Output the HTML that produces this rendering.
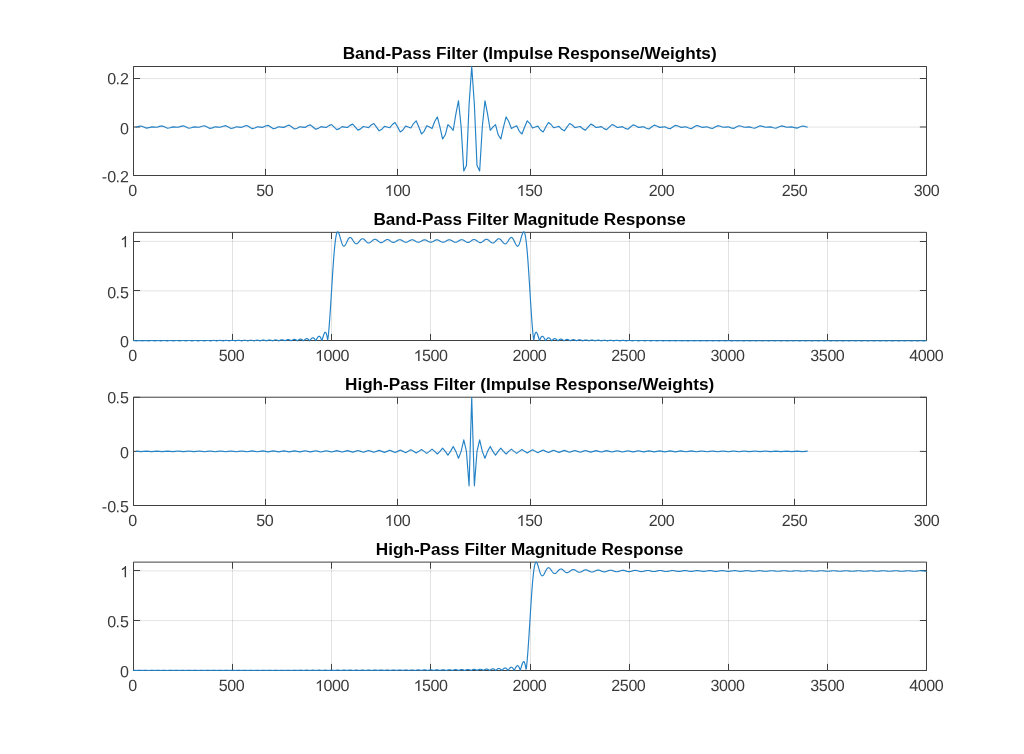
<!DOCTYPE html>
<html><head><meta charset="utf-8"><title>Filters</title>
<style>
html,body{margin:0;padding:0;background:#fff;}
body{width:1024px;height:754px;overflow:hidden;}
svg{display:block;}
text{font-family:"Liberation Sans",sans-serif;}
.t{font-size:15.6px;fill:#3a3a3a;}
.o{fill:#3a3a3a;stroke:none;}
.ti{font-size:17.0px;font-weight:bold;fill:#000;text-anchor:middle;}
.g{stroke:#262626;stroke-opacity:0.13;stroke-width:1;fill:none;}
.a{stroke:#404040;stroke-width:1;fill:none;}
.c{stroke:#2482C6;stroke-width:1.15;stroke-opacity:1;fill:none;stroke-linejoin:round;stroke-linecap:butt;}
</style></head><body>
<svg width="1024" height="754" viewBox="0 0 1024 754">
<rect width="1024" height="754" fill="#fff"/>
<g id="ax1" opacity="0.999">
<path class="g" d="M265.5 66.5V175.5M397.5 66.5V175.5M530.5 66.5V175.5M662.5 66.5V175.5M794.5 66.5V175.5"/>
<path class="g" d="M133.5 78.6H926.5M133.5 127.06H926.5"/>
<path class="a" d="M133.5 66.5H926.5V175.5H133.5Z"/>
<path class="a" d="M133.5 175.5v-6.6M133.5 66.5v6.6M265.5 175.5v-6.6M265.5 66.5v6.6M397.5 175.5v-6.6M397.5 66.5v6.6M530.5 175.5v-6.6M530.5 66.5v6.6M662.5 175.5v-6.6M662.5 66.5v6.6M794.5 175.5v-6.6M794.5 66.5v6.6M926.5 175.5v-6.6M926.5 66.5v6.6M133.5 175.5h6.6M926.5 175.5h-6.6M133.5 127h6.6M926.5 127h-6.6M133.5 78.5h6.6M926.5 78.5h-6.6"/>
<polyline class="c" points="135.77,127.23 138.41,126.44 141.06,126 143.7,127.06 146.35,128.13 148.99,127.69 151.64,126.87 154.28,127.06 156.93,127.25 159.57,126.4 162.22,125.93 164.86,127.06 167.51,128.2 170.15,127.73 172.8,126.86 175.45,127.06 178.09,127.26 180.74,126.35 183.38,125.85 186.03,127.06 188.67,128.29 191.32,127.78 193.96,126.84 196.61,127.06 199.25,127.27 201.9,126.3 204.54,125.75 207.19,127.06 209.83,128.39 212.48,127.84 215.13,126.82 217.77,127.06 220.42,127.29 223.06,126.24 225.71,125.64 228.35,127.06 231,128.5 233.64,127.91 236.29,126.8 238.93,127.06 241.58,127.32 244.22,126.16 246.87,125.51 249.51,127.06 252.16,128.64 254.81,128 257.45,126.78 260.1,127.06 262.74,127.34 265.39,126.07 268.03,125.35 270.68,127.06 273.32,128.81 275.97,128.1 278.61,126.75 281.26,127.06 283.9,127.37 286.55,125.95 289.19,125.15 291.84,127.06 294.49,129.02 297.13,128.22 299.78,126.71 302.42,127.06 305.07,127.41 307.71,125.81 310.36,124.9 313,127.06 315.65,129.29 318.29,128.38 320.94,126.66 323.58,127.06 326.23,127.47 328.87,125.63 331.52,124.57 334.17,127.06 336.81,129.64 339.46,128.6 342.1,126.59 344.75,127.06 347.39,127.54 350.04,125.38 352.68,124.13 355.33,127.06 357.97,130.12 360.62,128.89 363.26,126.5 365.91,127.06 368.55,127.63 371.2,125.03 373.85,123.5 376.49,127.06 379.14,130.82 381.78,129.32 384.43,126.37 387.07,127.06 389.72,127.78 392.36,124.49 395.01,122.52 397.65,127.06 400.3,131.93 402.94,130.02 405.59,126.15 408.23,127.06 410.88,128.04 413.53,123.55 416.17,120.79 418.82,127.06 421.46,133.98 424.11,131.34 426.75,125.73 429.4,127.06 432.04,128.56 434.69,121.55 437.33,116.93 439.98,127.06 442.62,139.02 445.27,134.77 447.91,124.55 450.56,127.06 453.21,130.28 455.85,114.21 458.5,100.73 461.14,127.06 463.79,170.93 466.43,165.61 469.08,104.47 471.72,66.5 474.37,104.47 477.01,165.61 479.66,170.93 482.3,127.06 484.95,100.73 487.59,114.21 490.24,130.28 492.89,127.06 495.53,124.55 498.18,134.77 500.82,139.02 503.47,127.06 506.11,116.93 508.76,121.55 511.4,128.56 514.05,127.06 516.69,125.73 519.34,131.34 521.98,133.98 524.63,127.06 527.27,120.79 529.92,123.55 532.57,128.04 535.21,127.06 537.86,126.15 540.5,130.02 543.15,131.93 545.79,127.06 548.44,122.52 551.08,124.49 553.73,127.78 556.37,127.06 559.02,126.37 561.66,129.32 564.31,130.82 566.95,127.06 569.6,123.5 572.25,125.03 574.89,127.63 577.54,127.06 580.18,126.5 582.83,128.89 585.47,130.12 588.12,127.06 590.76,124.13 593.41,125.38 596.05,127.54 598.7,127.06 601.34,126.59 603.99,128.6 606.63,129.64 609.28,127.06 611.93,124.57 614.57,125.63 617.22,127.47 619.86,127.06 622.51,126.66 625.15,128.38 627.8,129.29 630.44,127.06 633.09,124.9 635.73,125.81 638.38,127.41 641.02,127.06 643.67,126.71 646.31,128.22 648.96,129.02 651.61,127.06 654.25,125.15 656.9,125.95 659.54,127.37 662.19,127.06 664.83,126.75 667.48,128.1 670.12,128.81 672.77,127.06 675.41,125.35 678.06,126.07 680.7,127.34 683.35,127.06 685.99,126.78 688.64,128 691.29,128.64 693.93,127.06 696.58,125.51 699.22,126.16 701.87,127.32 704.51,127.06 707.16,126.8 709.8,127.91 712.45,128.5 715.09,127.06 717.74,125.64 720.38,126.24 723.03,127.29 725.67,127.06 728.32,126.82 730.97,127.84 733.61,128.39 736.26,127.06 738.9,125.75 741.55,126.3 744.19,127.27 746.84,127.06 749.48,126.84 752.13,127.78 754.77,128.29 757.42,127.06 760.06,125.85 762.71,126.35 765.35,127.26 768,127.06 770.65,126.86 773.29,127.73 775.94,128.2 778.58,127.06 781.23,125.93 783.87,126.4 786.52,127.25 789.16,127.06 791.81,126.87 794.45,127.69 797.1,128.13 799.74,127.06 802.39,126 805.03,126.44 807.68,127.23"/>
<g transform="translate(132.65 196.05) rotate(0.03) scale(1.03 1.04)"><text class="t" x="-4.34" y="0">0</text></g>
<g transform="translate(265.07 196.05) rotate(0.03) scale(1.03 1.04)"><text class="t" x="-8.46 -0.21" y="0">50</text></g>
<g transform="translate(397.63 196.05) rotate(0.03) scale(1.03 1.04)"><path class="o" transform="translate(-12.59 0) scale(0.00762 -0.00729)" d="M763 0H583V1147Q518 1085 412.5 1023T223 930V1104Q374 1175 487 1276T647 1472H763Z"/><text class="t" x="-4.34 3.92" y="0">00</text></g>
<g transform="translate(529.6 196.05) rotate(0.03) scale(1.03 1.04)"><path class="o" transform="translate(-12.59 0) scale(0.00762 -0.00729)" d="M763 0H583V1147Q518 1085 412.5 1023T223 930V1104Q374 1175 487 1276T647 1472H763Z"/><text class="t" x="-4.34 3.92" y="0">50</text></g>
<g transform="translate(661.67 196.05) rotate(0.03) scale(1.03 1.04)"><text class="t" x="-12.59 -4.34 3.92" y="0">200</text></g>
<g transform="translate(794.63 196.05) rotate(0.03) scale(1.03 1.04)"><text class="t" x="-12.59 -4.34 3.92" y="0">250</text></g>
<g transform="translate(926.7 196.05) rotate(0.03) scale(1.03 1.04)"><text class="t" x="-12.59 -4.34 3.92" y="0">300</text></g>
<g transform="translate(128.8 182.15) rotate(0.03) scale(1.03 1.04)"><text class="t" x="-26.17 -20.84 -12.87 -8.46" y="0">-0.2</text></g>
<g transform="translate(128.8 134.15) rotate(0.03) scale(1.03 1.04)"><text class="t" x="-8.46" y="0">0</text></g>
<g transform="translate(128.8 84.15) rotate(0.03) scale(1.03 1.04)"><text class="t" x="-20.84 -12.87 -8.46" y="0">0.2</text></g>
<text class="ti" transform="translate(529.6 59.3) rotate(0.01) scale(1.009 1.0)">Band-Pass Filter (Impulse Response/Weights)</text>
</g>
<g id="ax2" opacity="0.999">
<path class="g" d="M232.5 232.35V340.5M331.5 232.35V340.5M430.5 232.35V340.5M530.5 232.35V340.5M629.5 232.35V340.5M728.5 232.35V340.5M827.5 232.35V340.5"/>
<path class="g" d="M133.5 241.35H926.5M133.5 290.9H926.5"/>
<path class="a" d="M133.5 232.35H926.5V340.5H133.5Z"/>
<path class="a" d="M133.5 340.5v-6.6M133.5 232.35v6.6M232.5 340.5v-6.6M232.5 232.35v6.6M331.5 340.5v-6.6M331.5 232.35v6.6M430.5 340.5v-6.6M430.5 232.35v6.6M530.5 340.5v-6.6M530.5 232.35v6.6M629.5 340.5v-6.6M629.5 232.35v6.6M728.5 340.5v-6.6M728.5 232.35v6.6M827.5 340.5v-6.6M827.5 232.35v6.6M926.5 340.5v-6.6M926.5 232.35v6.6M133.5 340.5h6.6M926.5 340.5h-6.6M133.5 290.5h6.6M926.5 290.5h-6.6M133.5 241.5h6.6M926.5 241.5h-6.6"/>
<polyline class="c" points="133.12,340.55 133.52,340.56 133.91,340.58 134.31,340.61 134.71,340.66 135.1,340.71 135.5,340.77 135.9,340.84 136.29,340.89 136.69,340.82 137.09,340.75 137.48,340.69 137.88,340.64 138.28,340.6 138.68,340.57 139.07,340.55 139.47,340.55 139.87,340.56 140.26,340.59 140.66,340.63 141.06,340.68 141.45,340.73 141.85,340.8 142.25,340.87 142.64,340.86 143.04,340.79 143.44,340.73 143.83,340.67 144.23,340.62 144.63,340.58 145.02,340.56 145.42,340.55 145.82,340.55 146.21,340.57 146.61,340.6 147.01,340.64 147.4,340.7 147.8,340.76 148.2,340.83 148.6,340.9 148.99,340.83 149.39,340.76 149.79,340.7 150.18,340.65 150.58,340.6 150.98,340.57 151.37,340.55 151.77,340.54 152.17,340.55 152.56,340.58 152.96,340.61 153.36,340.66 153.75,340.72 154.15,340.78 154.55,340.85 154.94,340.88 155.34,340.81 155.74,340.74 156.13,340.68 156.53,340.63 156.93,340.58 157.32,340.56 157.72,340.54 158.12,340.54 158.52,340.56 158.91,340.58 159.31,340.63 159.71,340.68 160.1,340.74 160.5,340.81 160.9,340.88 161.29,340.85 161.69,340.78 162.09,340.71 162.48,340.65 162.88,340.6 163.28,340.57 163.67,340.54 164.07,340.54 164.47,340.54 164.86,340.56 165.26,340.59 165.66,340.64 166.05,340.7 166.45,340.76 166.85,340.83 167.24,340.89 167.64,340.82 168.04,340.75 168.44,340.68 168.83,340.63 169.23,340.58 169.63,340.55 170.02,340.53 170.42,340.53 170.82,340.54 171.21,340.57 171.61,340.61 172.01,340.66 172.4,340.72 172.8,340.79 173.2,340.86 173.59,340.86 173.99,340.79 174.39,340.72 174.78,340.66 175.18,340.6 175.58,340.56 175.97,340.54 176.37,340.52 176.77,340.52 177.16,340.54 177.56,340.57 177.96,340.62 178.36,340.67 178.75,340.74 179.15,340.81 179.55,340.89 179.94,340.83 180.34,340.76 180.74,340.69 181.13,340.63 181.53,340.58 181.93,340.54 182.32,340.52 182.72,340.51 183.12,340.52 183.51,340.54 183.91,340.58 184.31,340.63 184.7,340.69 185.1,340.76 185.5,340.84 185.89,340.88 186.29,340.8 186.69,340.73 187.08,340.66 187.48,340.6 187.88,340.56 188.28,340.52 188.67,340.5 189.07,340.5 189.47,340.52 189.86,340.55 190.26,340.59 190.66,340.65 191.05,340.71 191.45,340.79 191.85,340.87 192.24,340.85 192.64,340.77 193.04,340.7 193.43,340.63 193.83,340.57 194.23,340.53 194.62,340.5 195.02,340.49 195.42,340.49 195.81,340.51 196.21,340.55 196.61,340.6 197,340.66 197.4,340.74 197.8,340.82 198.2,340.9 198.59,340.82 198.99,340.74 199.39,340.66 199.78,340.6 200.18,340.54 200.58,340.5 200.97,340.48 201.37,340.47 201.77,340.48 202.16,340.51 202.56,340.56 202.96,340.61 203.35,340.68 203.75,340.76 204.15,340.85 204.54,340.87 204.94,340.78 205.34,340.7 205.73,340.62 206.13,340.56 206.53,340.51 206.92,340.48 207.32,340.46 207.72,340.46 208.12,340.48 208.51,340.51 208.91,340.56 209.31,340.63 209.7,340.7 210.1,340.79 210.5,340.88 210.89,340.83 211.29,340.74 211.69,340.66 212.08,340.59 212.48,340.53 212.88,340.48 213.27,340.45 213.67,340.44 214.07,340.44 214.46,340.47 214.86,340.51 215.26,340.57 215.65,340.64 216.05,340.73 216.45,340.82 216.84,340.89 217.24,340.79 217.64,340.7 218.04,340.62 218.43,340.55 218.83,340.49 219.23,340.44 219.62,340.42 220.02,340.42 220.42,340.43 220.81,340.46 221.21,340.52 221.61,340.58 222,340.66 222.4,340.75 222.8,340.85 223.19,340.85 223.59,340.75 223.99,340.66 224.38,340.57 224.78,340.5 225.18,340.45 225.57,340.41 225.97,340.39 226.37,340.39 226.76,340.42 227.16,340.46 227.56,340.52 227.96,340.6 228.35,340.69 228.75,340.79 229.15,340.89 229.54,340.8 229.94,340.7 230.34,340.61 230.73,340.52 231.13,340.45 231.53,340.4 231.92,340.37 232.32,340.36 232.72,340.37 233.11,340.4 233.51,340.46 233.91,340.53 234.3,340.61 234.7,340.71 235.1,340.82 235.49,340.87 235.89,340.76 236.29,340.65 236.68,340.55 237.08,340.47 237.48,340.4 237.88,340.35 238.27,340.33 238.67,340.33 239.07,340.35 239.46,340.39 239.86,340.45 240.26,340.54 240.65,340.63 241.05,340.74 241.45,340.86 241.84,340.82 242.24,340.7 242.64,340.59 243.03,340.49 243.43,340.41 243.83,340.35 244.22,340.3 244.62,340.28 245.02,340.29 245.41,340.32 245.81,340.38 246.21,340.45 246.6,340.55 247,340.66 247.4,340.78 247.8,340.89 248.19,340.76 248.59,340.64 248.99,340.53 249.38,340.42 249.78,340.34 250.18,340.28 250.57,340.25 250.97,340.24 251.37,340.25 251.76,340.3 252.16,340.36 252.56,340.45 252.95,340.56 253.35,340.69 253.75,340.82 254.14,340.84 254.54,340.7 254.94,340.57 255.33,340.45 255.73,340.35 256.13,340.27 256.52,340.21 256.92,340.18 257.32,340.18 257.72,340.21 258.11,340.27 258.51,340.35 258.91,340.46 259.3,340.59 259.7,340.73 260.1,340.87 260.49,340.77 260.89,340.63 261.29,340.49 261.68,340.36 262.08,340.26 262.48,340.18 262.87,340.13 263.27,340.11 263.67,340.12 264.06,340.17 264.46,340.24 264.86,340.34 265.25,340.47 265.65,340.61 266.05,340.77 266.44,340.86 266.84,340.7 267.24,340.54 267.64,340.39 268.03,340.26 268.43,340.15 268.83,340.08 269.22,340.04 269.62,340.03 270.02,340.05 270.41,340.11 270.81,340.21 271.21,340.33 271.6,340.48 272,340.65 272.4,340.83 272.79,340.79 273.19,340.6 273.59,340.43 273.98,340.27 274.38,340.14 274.78,340.03 275.17,339.96 275.57,339.92 275.97,339.93 276.36,339.97 276.76,340.06 277.16,340.18 277.56,340.33 277.95,340.5 278.35,340.7 278.75,340.9 279.14,340.69 279.54,340.48 279.94,340.29 280.33,340.12 280.73,339.98 281.13,339.88 281.52,339.81 281.92,339.79 282.32,339.81 282.71,339.88 283.11,339.99 283.51,340.14 283.9,340.32 284.3,340.53 284.7,340.76 285.09,340.8 285.49,340.56 285.89,340.33 286.28,340.12 286.68,339.94 287.08,339.79 287.48,339.69 287.87,339.63 288.27,339.62 288.67,339.67 289.06,339.77 289.46,339.91 289.86,340.1 290.25,340.32 290.65,340.58 291.05,340.85 291.44,340.67 291.84,340.39 292.24,340.13 292.63,339.9 293.03,339.7 293.43,339.54 293.82,339.44 294.22,339.39 294.62,339.41 295.01,339.49 295.41,339.62 295.81,339.81 296.2,340.06 296.6,340.34 297,340.65 297.4,340.82 297.79,340.48 298.19,340.16 298.59,339.85 298.98,339.58 299.38,339.36 299.78,339.2 300.17,339.1 300.57,339.07 300.97,339.12 301.36,339.24 301.76,339.43 302.16,339.69 302.55,340.01 302.95,340.37 303.35,340.77 303.74,340.62 304.14,340.2 304.54,339.8 304.93,339.44 305.33,339.12 305.73,338.87 306.12,338.69 306.52,338.6 306.92,338.6 307.32,338.69 307.71,338.88 308.11,339.17 308.51,339.53 308.9,339.96 309.3,340.45 309.7,340.82 310.09,340.28 310.49,339.74 310.89,339.23 311.28,338.76 311.68,338.37 312.08,338.07 312.47,337.87 312.87,337.79 313.27,337.84 313.66,338.02 314.06,338.33 314.46,338.76 314.85,339.31 315.25,339.95 315.65,340.66 316.04,340.38 316.44,339.6 316.84,338.83 317.24,338.11 317.63,337.47 318.03,336.93 318.43,336.54 318.82,336.31 319.22,336.26 319.62,336.41 320.01,336.77 320.41,337.33 320.81,338.09 321.2,339.04 321.6,340.14 322,340.44 322.39,339.13 322.79,337.78 323.19,336.46 323.58,335.21 323.98,334.1 324.38,333.18 324.77,332.53 325.17,332.21 325.57,332.26 325.96,332.74 326.36,333.7 326.76,335.17 327.16,337.18 327.55,339.74 327.95,338.95 328.35,335.29 328.74,331.1 329.14,326.43 329.54,321.3 329.93,315.79 330.33,309.94 330.73,303.84 331.12,297.56 331.52,291.19 331.92,284.8 332.31,278.5 332.71,272.35 333.11,266.45 333.5,260.86 333.9,255.65 334.3,250.89 334.69,246.61 335.09,242.86 335.49,239.66 335.88,237.02 336.28,234.95 336.68,233.43 337.08,232.43 337.47,231.92 337.87,231.87 338.27,232.21 338.66,232.9 339.06,233.86 339.46,235.04 339.85,236.36 340.25,237.77 340.65,239.21 341.04,240.61 341.44,241.92 341.84,243.11 342.23,244.13 342.63,244.95 343.03,245.56 343.42,245.95 343.82,246.11 344.22,246.06 344.61,245.81 345.01,245.37 345.41,244.78 345.8,244.07 346.2,243.27 346.6,242.41 347,241.54 347.39,240.69 347.79,239.89 348.19,239.17 348.58,238.55 348.98,238.06 349.38,237.71 349.77,237.51 350.17,237.45 350.57,237.54 350.96,237.77 351.36,238.12 351.76,238.57 352.15,239.11 352.55,239.7 352.95,240.33 353.34,240.97 353.74,241.59 354.14,242.16 354.53,242.67 354.93,243.11 355.33,243.44 355.72,243.67 356.12,243.78 356.52,243.78 356.92,243.67 357.31,243.46 357.71,243.15 358.11,242.76 358.5,242.32 358.9,241.83 359.3,241.33 359.69,240.82 360.09,240.33 360.49,239.89 360.88,239.49 361.28,239.17 361.68,238.93 362.07,238.78 362.47,238.72 362.87,238.75 363.26,238.88 363.66,239.09 364.06,239.37 364.45,239.71 364.85,240.1 365.25,240.52 365.64,240.94 366.04,241.37 366.44,241.77 366.84,242.14 367.23,242.45 367.63,242.7 368.03,242.88 368.42,242.98 368.82,243 369.22,242.94 369.61,242.8 370.01,242.6 370.41,242.33 370.8,242.02 371.2,241.67 371.6,241.3 371.99,240.92 372.39,240.56 372.79,240.21 373.18,239.91 373.58,239.65 373.98,239.45 374.37,239.32 374.77,239.26 375.17,239.27 375.56,239.35 375.96,239.49 376.36,239.7 376.76,239.95 377.15,240.25 377.55,240.57 377.95,240.9 378.34,241.24 378.74,241.56 379.14,241.86 379.53,242.12 379.93,242.33 380.33,242.49 380.72,242.59 381.12,242.62 381.52,242.59 381.91,242.49 382.31,242.34 382.71,242.13 383.1,241.89 383.5,241.61 383.9,241.31 384.29,241 384.69,240.69 385.09,240.4 385.48,240.14 385.88,239.92 386.28,239.74 386.68,239.61 387.07,239.55 387.47,239.54 387.87,239.59 388.26,239.7 388.66,239.86 389.06,240.07 389.45,240.31 389.85,240.58 390.25,240.86 390.64,241.15 391.04,241.43 391.44,241.69 391.83,241.93 392.23,242.12 392.63,242.27 393.02,242.36 393.42,242.41 393.82,242.39 394.21,242.32 394.61,242.2 395.01,242.03 395.4,241.83 395.8,241.59 396.2,241.33 396.6,241.06 396.99,240.79 397.39,240.53 397.79,240.29 398.18,240.08 398.58,239.91 398.98,239.79 399.37,239.72 399.77,239.7 400.17,239.73 400.56,239.81 400.96,239.95 401.36,240.12 401.75,240.33 402.15,240.57 402.55,240.82 402.94,241.08 403.34,241.34 403.74,241.58 404.13,241.8 404.53,241.98 404.93,242.13 405.32,242.23 405.72,242.28 406.12,242.28 406.52,242.23 406.91,242.13 407.31,241.99 407.71,241.81 408.1,241.59 408.5,241.36 408.9,241.11 409.29,240.86 409.69,240.61 410.09,240.39 410.48,240.19 410.88,240.02 411.28,239.9 411.67,239.82 412.07,239.78 412.47,239.8 412.86,239.87 413.26,239.98 413.66,240.14 414.05,240.33 414.45,240.55 414.85,240.78 415.24,241.03 415.64,241.27 416.04,241.5 416.44,241.71 416.83,241.9 417.23,242.05 417.63,242.15 418.02,242.21 418.42,242.22 418.82,242.19 419.21,242.1 419.61,241.98 420.01,241.81 420.4,241.61 420.8,241.39 421.2,241.16 421.59,240.92 421.99,240.68 422.39,240.46 422.78,240.26 423.18,240.09 423.58,239.96 423.97,239.87 424.37,239.83 424.77,239.83 425.16,239.89 425.56,239.99 425.96,240.13 426.36,240.3 426.75,240.51 427.15,240.73 427.55,240.97 427.94,241.21 428.34,241.44 428.74,241.65 429.13,241.84 429.53,242 429.93,242.11 430.32,242.18 430.72,242.21 431.12,242.18 431.51,242.11 431.91,242 432.31,241.84 432.7,241.65 433.1,241.44 433.5,241.21 433.89,240.97 434.29,240.73 434.69,240.51 435.08,240.3 435.48,240.13 435.88,239.99 436.28,239.89 436.67,239.83 437.07,239.83 437.47,239.87 437.86,239.96 438.26,240.09 438.66,240.26 439.05,240.46 439.45,240.68 439.85,240.92 440.24,241.16 440.64,241.39 441.04,241.62 441.43,241.81 441.83,241.98 442.23,242.11 442.62,242.19 443.02,242.23 443.42,242.21 443.81,242.15 444.21,242.05 444.61,241.9 445,241.71 445.4,241.5 445.8,241.27 446.2,241.02 446.59,240.78 446.99,240.54 447.39,240.33 447.78,240.14 448.18,239.98 448.58,239.87 448.97,239.8 449.37,239.78 449.77,239.81 450.16,239.89 450.56,240.02 450.96,240.18 451.35,240.39 451.75,240.61 452.15,240.86 452.54,241.11 452.94,241.36 453.34,241.59 453.73,241.81 454.13,241.99 454.53,242.14 454.92,242.24 455.32,242.29 455.72,242.29 456.12,242.24 456.51,242.13 456.91,241.99 457.31,241.8 457.7,241.58 458.1,241.34 458.5,241.08 458.89,240.82 459.29,240.57 459.69,240.33 460.08,240.12 460.48,239.94 460.88,239.81 461.27,239.72 461.67,239.69 462.07,239.71 462.46,239.78 462.86,239.91 463.26,240.08 463.65,240.28 464.05,240.52 464.45,240.78 464.84,241.06 465.24,241.33 465.64,241.59 466.04,241.83 466.43,242.04 466.83,242.21 467.23,242.33 467.62,242.4 468.02,242.41 468.42,242.37 468.81,242.27 469.21,242.13 469.61,241.93 470,241.7 470.4,241.43 470.8,241.15 471.19,240.86 471.59,240.58 471.99,240.31 472.38,240.06 472.78,239.85 473.18,239.69 473.57,239.58 473.97,239.53 474.37,239.54 474.76,239.61 475.16,239.73 475.56,239.91 475.96,240.14 476.35,240.4 476.75,240.69 477.15,241 477.54,241.31 477.94,241.61 478.34,241.89 478.73,242.14 479.13,242.35 479.53,242.5 479.92,242.6 480.32,242.63 480.72,242.6 481.11,242.5 481.51,242.34 481.91,242.13 482.3,241.87 482.7,241.57 483.1,241.24 483.49,240.9 483.89,240.56 484.29,240.24 484.68,239.94 485.08,239.69 485.48,239.48 485.88,239.34 486.27,239.26 486.67,239.25 487.07,239.31 487.46,239.44 487.86,239.64 488.26,239.9 488.65,240.21 489.05,240.55 489.45,240.92 489.84,241.3 490.24,241.67 490.64,242.03 491.03,242.34 491.43,242.61 491.83,242.82 492.22,242.95 492.62,243.01 493.02,242.99 493.41,242.89 493.81,242.71 494.21,242.46 494.6,242.14 495,241.78 495.4,241.37 495.8,240.94 496.19,240.51 496.59,240.09 496.99,239.7 497.38,239.36 497.78,239.07 498.18,238.87 498.57,238.74 498.97,238.7 499.37,238.76 499.76,238.92 500.16,239.16 500.56,239.48 500.95,239.88 501.35,240.33 501.75,240.82 502.14,241.33 502.54,241.84 502.94,242.33 503.33,242.77 503.73,243.16 504.13,243.47 504.52,243.68 504.92,243.8 505.32,243.8 505.72,243.68 506.11,243.45 506.51,243.12 506.91,242.68 507.3,242.17 507.7,241.59 508.1,240.97 508.49,240.33 508.89,239.7 509.29,239.1 509.68,238.56 510.08,238.1 510.48,237.75 510.87,237.52 511.27,237.43 511.67,237.49 512.06,237.7 512.46,238.05 512.86,238.54 513.25,239.16 513.65,239.88 514.05,240.69 514.44,241.54 514.84,242.42 515.24,243.28 515.64,244.08 516.03,244.79 516.43,245.39 516.83,245.82 517.22,246.08 517.62,246.13 518.02,245.97 518.41,245.58 518.81,244.96 519.21,244.14 519.6,243.12 520,241.93 520.4,240.61 520.79,239.2 521.19,237.77 521.59,236.35 521.98,235.02 522.38,233.84 522.78,232.88 523.17,232.19 523.57,231.85 523.97,231.9 524.36,232.41 524.76,233.41 525.16,234.94 525.56,237.01 525.95,239.65 526.35,242.86 526.75,246.61 527.14,250.89 527.54,255.66 527.94,260.87 528.33,266.46 528.73,272.37 529.13,278.52 529.52,284.82 529.92,291.21 530.32,297.58 530.71,303.86 531.11,309.96 531.51,315.8 531.9,321.31 532.3,326.43 532.7,331.11 533.09,335.29 533.49,338.94 533.89,339.75 534.28,337.19 534.68,335.19 535.08,333.72 535.48,332.76 535.87,332.28 536.27,332.23 536.67,332.55 537.06,333.2 537.46,334.11 537.86,335.22 538.25,336.47 538.65,337.79 539.05,339.13 539.44,340.43 539.84,340.15 540.24,339.05 540.63,338.11 541.03,337.35 541.43,336.79 541.82,336.43 542.22,336.28 542.62,336.33 543.01,336.56 543.41,336.96 543.81,337.49 544.2,338.13 544.6,338.84 545,339.6 545.4,340.38 545.79,340.67 546.19,339.96 546.59,339.32 546.98,338.78 547.38,338.35 547.78,338.04 548.17,337.87 548.57,337.82 548.97,337.9 549.36,338.09 549.76,338.39 550.16,338.78 550.55,339.24 550.95,339.75 551.35,340.28 551.74,340.82 552.14,340.46 552.54,339.98 552.93,339.55 553.33,339.19 553.73,338.91 554.12,338.72 554.52,338.63 554.92,338.63 555.32,338.72 555.71,338.89 556.11,339.14 556.51,339.46 556.9,339.82 557.3,340.21 557.7,340.62 558.09,340.77 558.49,340.38 558.89,340.02 559.28,339.71 559.68,339.46 560.08,339.26 560.47,339.15 560.87,339.1 561.27,339.13 561.66,339.22 562.06,339.39 562.46,339.6 562.85,339.87 563.25,340.17 563.65,340.49 564.04,340.82 564.44,340.66 564.84,340.35 565.24,340.07 565.63,339.84 566.03,339.65 566.43,339.51 566.82,339.44 567.22,339.42 567.62,339.47 568.01,339.57 568.41,339.72 568.81,339.92 569.2,340.15 569.6,340.4 570,340.67 570.39,340.85 570.79,340.59 571.19,340.34 571.58,340.12 571.98,339.94 572.38,339.8 572.77,339.7 573.17,339.66 573.57,339.66 573.96,339.72 574.36,339.82 574.76,339.96 575.16,340.14 575.55,340.35 575.95,340.57 576.35,340.8 576.74,340.77 577.14,340.54 577.54,340.34 577.93,340.16 578.33,340.02 578.73,339.91 579.12,339.85 579.52,339.83 579.92,339.85 580.31,339.91 580.71,340.01 581.11,340.15 581.5,340.31 581.9,340.5 582.3,340.69 582.69,340.9 583.09,340.71 583.49,340.52 583.88,340.35 584.28,340.2 584.68,340.09 585.08,340.01 585.47,339.97 585.87,339.96 586.27,339.99 586.66,340.06 587.06,340.16 587.46,340.29 587.85,340.44 588.25,340.61 588.65,340.79 589.04,340.83 589.44,340.66 589.84,340.5 590.23,340.36 590.63,340.24 591.03,340.15 591.42,340.09 591.82,340.07 592.22,340.07 592.61,340.12 593.01,340.19 593.41,340.29 593.8,340.41 594.2,340.55 594.6,340.7 595,340.86 595.39,340.78 595.79,340.63 596.19,340.49 596.58,340.37 596.98,340.27 597.38,340.2 597.77,340.16 598.17,340.15 598.57,340.17 598.96,340.22 599.36,340.29 599.76,340.39 600.15,340.51 600.55,340.64 600.95,340.78 601.34,340.88 601.74,340.74 602.14,340.6 602.53,340.49 602.93,340.39 603.33,340.31 603.72,340.25 604.12,340.23 604.52,340.23 604.92,340.25 605.31,340.3 605.71,340.38 606.11,340.48 606.5,340.59 606.9,340.71 607.3,340.84 607.69,340.83 608.09,340.7 608.49,340.59 608.88,340.49 609.28,340.4 609.68,340.34 610.07,340.3 610.47,340.28 610.87,340.29 611.26,340.32 611.66,340.38 612.06,340.46 612.45,340.55 612.85,340.66 613.25,340.77 613.64,340.89 614.04,340.79 614.44,340.68 614.84,340.58 615.23,340.49 615.63,340.42 616.03,340.37 616.42,340.34 616.82,340.33 617.22,340.35 617.61,340.39 618.01,340.45 618.41,340.52 618.8,340.62 619.2,340.72 619.6,340.82 619.99,340.87 620.39,340.76 620.79,340.66 621.18,340.57 621.58,340.49 621.98,340.43 622.37,340.4 622.77,340.38 623.17,340.38 623.56,340.4 623.96,340.45 624.36,340.51 624.76,340.58 625.15,340.67 625.55,340.77 625.95,340.87 626.34,340.83 626.74,340.73 627.14,340.64 627.53,340.56 627.93,340.5 628.33,340.45 628.72,340.42 629.12,340.41 629.52,340.42 629.91,340.45 630.31,340.5 630.71,340.56 631.1,340.64 631.5,340.72 631.9,340.81 632.29,340.89 632.69,340.8 633.09,340.71 633.48,340.63 633.88,340.56 634.28,340.51 634.68,340.47 635.07,340.45 635.47,340.45 635.87,340.46 636.26,340.5 636.66,340.55 637.06,340.61 637.45,340.68 637.85,340.77 638.25,340.85 638.64,340.86 639.04,340.77 639.44,340.69 639.83,340.62 640.23,340.56 640.63,340.52 641.02,340.49 641.42,340.47 641.82,340.48 642.21,340.5 642.61,340.54 643.01,340.59 643.4,340.65 643.8,340.72 644.2,340.8 644.6,340.89 644.99,340.83 645.39,340.75 645.79,340.68 646.18,340.62 646.58,340.57 646.98,340.53 647.37,340.51 647.77,340.5 648.17,340.51 648.56,340.54 648.96,340.58 649.36,340.63 649.75,340.69 650.15,340.76 650.55,340.84 650.94,340.88 651.34,340.81 651.74,340.73 652.13,340.67 652.53,340.61 652.93,340.57 653.32,340.54 653.72,340.52 654.12,340.52 654.52,340.54 654.91,340.57 655.31,340.61 655.71,340.67 656.1,340.73 656.5,340.8 656.9,340.87 657.29,340.86 657.69,340.78 658.09,340.72 658.48,340.66 658.88,340.61 659.28,340.57 659.67,340.55 660.07,340.54 660.47,340.55 660.86,340.57 661.26,340.6 661.66,340.64 662.05,340.7 662.45,340.76 662.85,340.83 663.24,340.9 663.64,340.83 664.04,340.77 664.44,340.71 664.83,340.65 665.23,340.61 665.63,340.58 666.02,340.56 666.42,340.56 666.82,340.57 667.21,340.59 667.61,340.63 668.01,340.68 668.4,340.73 668.8,340.79 669.2,340.86 669.59,340.88 669.99,340.81 670.39,340.75 670.78,340.7 671.18,340.65 671.58,340.61 671.97,340.59 672.37,340.58 672.77,340.58 673.16,340.59 673.56,340.62 673.96,340.66 674.36,340.71 674.75,340.76 675.15,340.82 675.55,340.88 675.94,340.85 676.34,340.79 676.74,340.74 677.13,340.69 677.53,340.65 677.93,340.62 678.32,340.6 678.72,340.59 679.12,340.6 679.51,340.62 679.91,340.65 680.31,340.69 680.7,340.73 681.1,340.79 681.5,340.85 681.89,340.89 682.29,340.83 682.69,340.78 683.08,340.73 683.48,340.68 683.88,340.65 684.28,340.62 684.67,340.61 685.07,340.61 685.47,340.62 685.86,340.64 686.26,340.67 686.66,340.71 687.05,340.76 687.45,340.81 687.85,340.87 688.24,340.87 688.64,340.82 689.04,340.76 689.43,340.72 689.83,340.68 690.23,340.65 690.62,340.63 691.02,340.62 691.42,340.62 691.81,340.64 692.21,340.66 692.61,340.69 693,340.74 693.4,340.78 693.8,340.84 694.2,340.89 694.59,340.85 694.99,340.8 695.39,340.75 695.78,340.71 696.18,340.67 696.58,340.65 696.97,340.63 697.37,340.63 697.77,340.64 698.16,340.65 698.56,340.68 698.96,340.72 699.35,340.76 699.75,340.81 700.15,340.86 700.54,340.89 700.94,340.83 701.34,340.78 701.73,340.74 702.13,340.7 702.53,340.67 702.92,340.65 703.32,340.64 703.72,340.64 704.12,340.65 704.51,340.67 704.91,340.7 705.31,340.74 705.7,340.78 706.1,340.83 706.5,340.88 706.89,340.87 707.29,340.82 707.69,340.77 708.08,340.73 708.48,340.7 708.88,340.67 709.27,340.66 709.67,340.65 710.07,340.65 710.46,340.67 710.86,340.69 711.26,340.72 711.65,340.76 712.05,340.8 712.45,340.85 712.84,340.9 713.24,340.85 713.64,340.8 714.04,340.76 714.43,340.72 714.83,340.69 715.23,340.67 715.62,340.66 716.02,340.66 716.42,340.67 716.81,340.68 717.21,340.71 717.61,340.74 718,340.78 718.4,340.82 718.8,340.87 719.19,340.88 719.59,340.83 719.99,340.79 720.38,340.75 720.78,340.72 721.18,340.69 721.57,340.67 721.97,340.67 722.37,340.67 722.76,340.68 723.16,340.7 723.56,340.72 723.96,340.76 724.35,340.8 724.75,340.84 725.15,340.89 725.54,340.86 725.94,340.82 726.34,340.78 726.73,340.74 727.13,340.71 727.53,340.69 727.92,340.68 728.32,340.67 728.72,340.68 729.11,340.69 729.51,340.71 729.91,340.74 730.3,340.78 730.7,340.82 731.1,340.86 731.49,340.89 731.89,340.85 732.29,340.81 732.68,340.77 733.08,340.74 733.48,340.71 733.88,340.69 734.27,340.68 734.67,340.68 735.07,340.69 735.46,340.7 735.86,340.73 736.26,340.76 736.65,340.8 737.05,340.84 737.45,340.88 737.84,340.88 738.24,340.84 738.64,340.8 739.03,340.76 739.43,340.73 739.83,340.71 740.22,340.69 740.62,340.69 741.02,340.69 741.41,340.7 741.81,340.72 742.21,340.74 742.6,340.78 743,340.81 743.4,340.85 743.8,340.9 744.19,340.86 744.59,340.82 744.99,340.78 745.38,340.75 745.78,340.73 746.18,340.71 746.57,340.7 746.97,340.69 747.37,340.7 747.76,340.71 748.16,340.73 748.56,340.76 748.95,340.79 749.35,340.83 749.75,340.87 750.14,340.89 750.54,340.85 750.94,340.81 751.33,340.78 751.73,340.75 752.13,340.72 752.52,340.71 752.92,340.7 753.32,340.7 753.72,340.71 754.11,340.72 754.51,340.75 754.91,340.77 755.3,340.81 755.7,340.85 756.1,340.89 756.49,340.87 756.89,340.84 757.29,340.8 757.68,340.77 758.08,340.74 758.48,340.72 758.87,340.71 759.27,340.7 759.67,340.71 760.06,340.72 760.46,340.73 760.86,340.76 761.25,340.79 761.65,340.82 762.05,340.86 762.44,340.9 762.84,340.86 763.24,340.82 763.64,340.79 764.03,340.76 764.43,340.74 764.83,340.72 765.22,340.71 765.62,340.71 766.02,340.71 766.41,340.73 766.81,340.75 767.21,340.77 767.6,340.8 768,340.84 768.4,340.88 768.79,340.88 769.19,340.85 769.59,340.81 769.98,340.78 770.38,340.75 770.78,340.73 771.17,340.72 771.57,340.71 771.97,340.71 772.36,340.72 772.76,340.74 773.16,340.76 773.56,340.79 773.95,340.82 774.35,340.85 774.75,340.89 775.14,340.87 775.54,340.83 775.94,340.8 776.33,340.77 776.73,340.75 777.13,340.73 777.52,340.72 777.92,340.72 778.32,340.72 778.71,340.73 779.11,340.75 779.51,340.77 779.9,340.8 780.3,340.83 780.7,340.87 781.09,340.89 781.49,340.86 781.89,340.82 782.28,340.79 782.68,340.77 783.08,340.74 783.48,340.73 783.87,340.72 784.27,340.72 784.67,340.73 785.06,340.74 785.46,340.76 785.86,340.78 786.25,340.81 786.65,340.85 787.05,340.88 787.44,340.88 787.84,340.85 788.24,340.81 788.63,340.78 789.03,340.76 789.43,340.74 789.82,340.73 790.22,340.72 790.62,340.72 791.01,340.73 791.41,340.75 791.81,340.77 792.2,340.8 792.6,340.83 793,340.86 793.4,340.9 793.79,340.87 794.19,340.83 794.59,340.8 794.98,340.78 795.38,340.75 795.78,340.74 796.17,340.73 796.57,340.73 796.97,340.73 797.36,340.74 797.76,340.76 798.16,340.78 798.55,340.81 798.95,340.84 799.35,340.88 799.74,340.89 800.14,340.86 800.54,340.82 800.93,340.79 801.33,340.77 801.73,340.75 802.12,340.74 802.52,340.73 802.92,340.73 803.32,340.74 803.71,340.75 804.11,340.77 804.51,340.79 804.9,340.82 805.3,340.85 805.7,340.89 806.09,340.88 806.49,340.84 806.89,340.81 807.28,340.79 807.68,340.76 808.08,340.75 808.47,340.74 808.87,340.73 809.27,340.73 809.66,340.74 810.06,340.76 810.46,340.78 810.85,340.81 811.25,340.84 811.65,340.87 812.04,340.9 812.44,340.87 812.84,340.83 813.24,340.8 813.63,340.78 814.03,340.76 814.43,340.74 814.82,340.74 815.22,340.73 815.62,340.74 816.01,340.75 816.41,340.77 816.81,340.79 817.2,340.82 817.6,340.85 818,340.88 818.39,340.89 818.79,340.85 819.19,340.82 819.58,340.8 819.98,340.77 820.38,340.75 820.77,340.74 821.17,340.74 821.57,340.74 821.96,340.75 822.36,340.76 822.76,340.78 823.16,340.8 823.55,340.83 823.95,340.86 824.35,340.89 824.74,340.87 825.14,340.84 825.54,340.81 825.93,340.79 826.33,340.77 826.73,340.75 827.12,340.74 827.52,340.74 827.92,340.74 828.31,340.75 828.71,340.77 829.11,340.79 829.5,340.81 829.9,340.84 830.3,340.87 830.69,340.89 831.09,340.86 831.49,340.83 831.88,340.81 832.28,340.78 832.68,340.76 833.08,340.75 833.47,340.74 833.87,340.74 834.27,340.75 834.66,340.76 835.06,340.78 835.46,340.8 835.85,340.82 836.25,340.85 836.65,340.89 837.04,340.88 837.44,340.85 837.84,340.82 838.23,340.8 838.63,340.78 839.03,340.76 839.42,340.75 839.82,340.74 840.22,340.74 840.61,340.75 841.01,340.77 841.41,340.79 841.8,340.81 842.2,340.84 842.6,340.87 843,340.9 843.39,340.87 843.79,340.84 844.19,340.81 844.58,340.79 844.98,340.77 845.38,340.76 845.77,340.75 846.17,340.74 846.57,340.75 846.96,340.76 847.36,340.77 847.76,340.79 848.15,340.82 848.55,340.85 848.95,340.88 849.34,340.89 849.74,340.86 850.14,340.83 850.53,340.8 850.93,340.78 851.33,340.77 851.72,340.75 852.12,340.75 852.52,340.75 852.92,340.75 853.31,340.77 853.71,340.78 854.11,340.8 854.5,340.83 854.9,340.86 855.3,340.89 855.69,340.88 856.09,340.85 856.49,340.82 856.88,340.8 857.28,340.78 857.68,340.76 858.07,340.75 858.47,340.75 858.87,340.75 859.26,340.76 859.66,340.77 860.06,340.79 860.45,340.81 860.85,340.84 861.25,340.87 861.64,340.9 862.04,340.87 862.44,340.84 862.84,340.81 863.23,340.79 863.63,340.77 864.03,340.76 864.42,340.75 864.82,340.75 865.22,340.75 865.61,340.76 866.01,340.78 866.41,340.8 866.8,340.83 867.2,340.85 867.6,340.88 867.99,340.89 868.39,340.86 868.79,340.83 869.18,340.8 869.58,340.78 869.98,340.77 870.37,340.76 870.77,340.75 871.17,340.75 871.56,340.76 871.96,340.77 872.36,340.79 872.76,340.81 873.15,340.84 873.55,340.86 873.95,340.89 874.34,340.88 874.74,340.85 875.14,340.82 875.53,340.8 875.93,340.78 876.33,340.76 876.72,340.75 877.12,340.75 877.52,340.75 877.91,340.76 878.31,340.78 878.71,340.8 879.1,340.82 879.5,340.85 879.9,340.88 880.29,340.89 880.69,340.87 881.09,340.84 881.48,340.81 881.88,340.79 882.28,340.77 882.68,340.76 883.07,340.75 883.47,340.75 883.87,340.76 884.26,340.77 884.66,340.78 885.06,340.81 885.45,340.83 885.85,340.86 886.25,340.89 886.64,340.88 887.04,340.85 887.44,340.83 887.83,340.8 888.23,340.78 888.63,340.77 889.02,340.76 889.42,340.75 889.82,340.75 890.21,340.76 890.61,340.77 891.01,340.79 891.4,340.81 891.8,340.84 892.2,340.87 892.6,340.9 892.99,340.87 893.39,340.84 893.79,340.82 894.18,340.8 894.58,340.78 894.98,340.76 895.37,340.76 895.77,340.75 896.17,340.76 896.56,340.77 896.96,340.78 897.36,340.8 897.75,340.82 898.15,340.85 898.55,340.88 898.94,340.89 899.34,340.86 899.74,340.83 900.13,340.81 900.53,340.79 900.93,340.77 901.32,340.76 901.72,340.75 902.12,340.75 902.52,340.76 902.91,340.77 903.31,340.79 903.71,340.81 904.1,340.83 904.5,340.86 904.9,340.89 905.29,340.88 905.69,340.85 906.09,340.82 906.48,340.8 906.88,340.78 907.28,340.77 907.67,340.76 908.07,340.75 908.47,340.76 908.86,340.76 909.26,340.78 909.66,340.8 910.05,340.82 910.45,340.84 910.85,340.87 911.24,340.9 911.64,340.87 912.04,340.84 912.44,340.82 912.83,340.79 913.23,340.78 913.63,340.76 914.02,340.76 914.42,340.75 914.82,340.76 915.21,340.77 915.61,340.78 916.01,340.8 916.4,340.83 916.8,340.85 917.2,340.88 917.59,340.89 917.99,340.86 918.39,340.83 918.78,340.81 919.18,340.79 919.58,340.77 919.97,340.76 920.37,340.75 920.77,340.76 921.16,340.76 921.56,340.77 921.96,340.79 922.36,340.81 922.75,340.84 923.15,340.87 923.55,340.89 923.94,340.88 924.34,340.85 924.74,340.82 925.13,340.8 925.53,340.78 925.93,340.77 926.32,340.76 926.72,340.75"/>
<g transform="translate(132.65 361.05) rotate(0.03) scale(1.03 1.04)"><text class="t" x="-4.34" y="0">0</text></g>
<g transform="translate(231.72 361.05) rotate(0.03) scale(1.03 1.04)"><text class="t" x="-12.59 -4.34 3.92" y="0">500</text></g>
<g transform="translate(332.25 361.05) rotate(0.03) scale(1.03 1.04)"><path class="o" transform="translate(-16.72 0) scale(0.00762 -0.00729)" d="M763 0H583V1147Q518 1085 412.5 1023T223 930V1104Q374 1175 487 1276T647 1472H763Z"/><text class="t" x="-8.46 -0.21 8.04" y="0">000</text></g>
<g transform="translate(430.77 361.05) rotate(0.03) scale(1.03 1.04)"><path class="o" transform="translate(-16.72 0) scale(0.00762 -0.00729)" d="M763 0H583V1147Q518 1085 412.5 1023T223 930V1104Q374 1175 487 1276T647 1472H763Z"/><text class="t" x="-8.46 -0.21 8.04" y="0">500</text></g>
<g transform="translate(529.6 361.05) rotate(0.03) scale(1.03 1.04)"><text class="t" x="-16.72 -8.46 -0.21 8.04" y="0">2000</text></g>
<g transform="translate(628.58 361.05) rotate(0.03) scale(1.03 1.04)"><text class="t" x="-16.72 -8.46 -0.21 8.04" y="0">2500</text></g>
<g transform="translate(727.7 361.05) rotate(0.03) scale(1.03 1.04)"><text class="t" x="-16.72 -8.46 -0.21 8.04" y="0">3000</text></g>
<g transform="translate(827.58 361.05) rotate(0.03) scale(1.03 1.04)"><text class="t" x="-16.72 -8.46 -0.21 8.04" y="0">3500</text></g>
<g transform="translate(926.5 361.05) rotate(0.03) scale(1.03 1.04)"><text class="t" x="-16.72 -8.46 -0.21 8.04" y="0">4000</text></g>
<g transform="translate(128.8 347.15) rotate(0.03) scale(1.03 1.04)"><text class="t" x="-8.46" y="0">0</text></g>
<g transform="translate(128.8 298.15) rotate(0.03) scale(1.03 1.04)"><text class="t" x="-20.84 -12.87 -8.46" y="0">0.5</text></g>
<g transform="translate(128.8 247.15) rotate(0.03) scale(1.03 1.04)"><path class="o" transform="translate(-8.46 0) scale(0.00762 -0.00729)" d="M763 0H583V1147Q518 1085 412.5 1023T223 930V1104Q374 1175 487 1276T647 1472H763Z"/></g>
<text class="ti" transform="translate(529.6 225.3) rotate(0.01) scale(1.009 1.0)">Band-Pass Filter Magnitude Response</text>
</g>
<g id="ax3" opacity="0.999">
<path class="g" d="M265.5 397.22V505.5M397.5 397.22V505.5M530.5 397.22V505.5M662.5 397.22V505.5M794.5 397.22V505.5"/>
<path class="g" d="M133.5 451.4H926.5"/>
<path class="a" d="M133.5 397.22H926.5V505.5H133.5Z"/>
<path class="a" d="M133.5 505.5v-6.6M133.5 397.22v6.6M265.5 505.5v-6.6M265.5 397.22v6.6M397.5 505.5v-6.6M397.5 397.22v6.6M530.5 505.5v-6.6M530.5 397.22v6.6M662.5 505.5v-6.6M662.5 397.22v6.6M794.5 505.5v-6.6M794.5 397.22v6.6M926.5 505.5v-6.6M926.5 397.22v6.6M133.5 505.5h6.6M926.5 505.5h-6.6M133.5 451.4h6.6M926.5 451.4h-6.6M133.5 397.3h6.6M926.5 397.3h-6.6"/>
<polyline class="c" points="135.77,451.09 138.41,451.36 141.06,451.64 143.7,451.36 146.35,451.08 148.99,451.36 151.64,451.64 154.28,451.36 156.93,451.07 159.57,451.36 162.22,451.65 164.86,451.36 167.51,451.06 170.15,451.36 172.8,451.67 175.45,451.36 178.09,451.05 180.74,451.36 183.38,451.68 186.03,451.36 188.67,451.04 191.32,451.36 193.96,451.69 196.61,451.36 199.25,451.03 201.9,451.36 204.54,451.7 207.19,451.36 209.83,451.01 212.48,451.36 215.13,451.72 217.77,451.36 220.42,451 223.06,451.36 225.71,451.73 228.35,451.36 231,450.98 233.64,451.36 236.29,451.75 238.93,451.36 241.58,450.96 244.22,451.36 246.87,451.77 249.51,451.36 252.16,450.94 254.81,451.36 257.45,451.79 260.1,451.36 262.74,450.92 265.39,451.36 268.03,451.81 270.68,451.36 273.32,450.9 275.97,451.36 278.61,451.83 281.26,451.36 283.9,450.87 286.55,451.36 289.19,451.86 291.84,451.36 294.49,450.85 297.13,451.36 299.78,451.89 302.42,451.36 305.07,450.81 307.71,451.36 310.36,451.93 313,451.36 315.65,450.78 318.29,451.36 320.94,451.96 323.58,451.36 326.23,450.73 328.87,451.36 331.52,452.01 334.17,451.36 336.81,450.68 339.46,451.36 342.1,452.06 344.75,451.36 347.39,450.63 350.04,451.36 352.68,452.13 355.33,451.36 357.97,450.56 360.62,451.36 363.26,452.2 365.91,451.36 368.55,450.48 371.2,451.36 373.85,452.29 376.49,451.36 379.14,450.38 381.78,451.36 384.43,452.4 387.07,451.36 389.72,450.25 392.36,451.36 395.01,452.55 397.65,451.36 400.3,450.08 402.94,451.36 405.59,452.74 408.23,451.36 410.88,449.86 413.53,451.36 416.17,453 418.82,451.36 421.46,449.55 424.11,451.36 426.75,453.39 429.4,451.36 432.04,449.06 434.69,451.36 437.33,454.01 439.98,451.36 442.62,448.23 445.27,451.36 447.91,455.19 450.56,451.36 453.21,446.44 455.85,451.36 458.5,458.25 461.14,451.36 463.79,439.87 466.43,451.36 469.08,485.83 471.72,397.22 474.37,485.83 477.01,451.36 479.66,439.87 482.3,451.36 484.95,458.25 487.59,451.36 490.24,446.44 492.89,451.36 495.53,455.19 498.18,451.36 500.82,448.23 503.47,451.36 506.11,454.01 508.76,451.36 511.4,449.06 514.05,451.36 516.69,453.39 519.34,451.36 521.98,449.55 524.63,451.36 527.27,453 529.92,451.36 532.57,449.86 535.21,451.36 537.86,452.74 540.5,451.36 543.15,450.08 545.79,451.36 548.44,452.55 551.08,451.36 553.73,450.25 556.37,451.36 559.02,452.4 561.66,451.36 564.31,450.38 566.95,451.36 569.6,452.29 572.25,451.36 574.89,450.48 577.54,451.36 580.18,452.2 582.83,451.36 585.47,450.56 588.12,451.36 590.76,452.13 593.41,451.36 596.05,450.63 598.7,451.36 601.34,452.06 603.99,451.36 606.63,450.68 609.28,451.36 611.93,452.01 614.57,451.36 617.22,450.73 619.86,451.36 622.51,451.96 625.15,451.36 627.8,450.78 630.44,451.36 633.09,451.93 635.73,451.36 638.38,450.81 641.02,451.36 643.67,451.89 646.31,451.36 648.96,450.85 651.61,451.36 654.25,451.86 656.9,451.36 659.54,450.87 662.19,451.36 664.83,451.83 667.48,451.36 670.12,450.9 672.77,451.36 675.41,451.81 678.06,451.36 680.7,450.92 683.35,451.36 685.99,451.79 688.64,451.36 691.29,450.94 693.93,451.36 696.58,451.77 699.22,451.36 701.87,450.96 704.51,451.36 707.16,451.75 709.8,451.36 712.45,450.98 715.09,451.36 717.74,451.73 720.38,451.36 723.03,451 725.67,451.36 728.32,451.72 730.97,451.36 733.61,451.01 736.26,451.36 738.9,451.7 741.55,451.36 744.19,451.03 746.84,451.36 749.48,451.69 752.13,451.36 754.77,451.04 757.42,451.36 760.06,451.68 762.71,451.36 765.35,451.05 768,451.36 770.65,451.67 773.29,451.36 775.94,451.06 778.58,451.36 781.23,451.65 783.87,451.36 786.52,451.07 789.16,451.36 791.81,451.64 794.45,451.36 797.1,451.08 799.74,451.36 802.39,451.64 805.03,451.36 807.68,451.09"/>
<g transform="translate(132.65 526.05) rotate(0.03) scale(1.03 1.04)"><text class="t" x="-4.34" y="0">0</text></g>
<g transform="translate(265.07 526.05) rotate(0.03) scale(1.03 1.04)"><text class="t" x="-8.46 -0.21" y="0">50</text></g>
<g transform="translate(397.63 526.05) rotate(0.03) scale(1.03 1.04)"><path class="o" transform="translate(-12.59 0) scale(0.00762 -0.00729)" d="M763 0H583V1147Q518 1085 412.5 1023T223 930V1104Q374 1175 487 1276T647 1472H763Z"/><text class="t" x="-4.34 3.92" y="0">00</text></g>
<g transform="translate(529.6 526.05) rotate(0.03) scale(1.03 1.04)"><path class="o" transform="translate(-12.59 0) scale(0.00762 -0.00729)" d="M763 0H583V1147Q518 1085 412.5 1023T223 930V1104Q374 1175 487 1276T647 1472H763Z"/><text class="t" x="-4.34 3.92" y="0">50</text></g>
<g transform="translate(661.67 526.05) rotate(0.03) scale(1.03 1.04)"><text class="t" x="-12.59 -4.34 3.92" y="0">200</text></g>
<g transform="translate(794.63 526.05) rotate(0.03) scale(1.03 1.04)"><text class="t" x="-12.59 -4.34 3.92" y="0">250</text></g>
<g transform="translate(926.7 526.05) rotate(0.03) scale(1.03 1.04)"><text class="t" x="-12.59 -4.34 3.92" y="0">300</text></g>
<g transform="translate(128.8 512.15) rotate(0.03) scale(1.03 1.04)"><text class="t" x="-26.17 -20.84 -12.87 -8.46" y="0">-0.5</text></g>
<g transform="translate(128.8 458.15) rotate(0.03) scale(1.03 1.04)"><text class="t" x="-8.46" y="0">0</text></g>
<g transform="translate(128.8 403.15) rotate(0.03) scale(1.03 1.04)"><text class="t" x="-20.84 -12.87 -8.46" y="0">0.5</text></g>
<text class="ti" transform="translate(529.6 390.3) rotate(0.01) scale(1.009 1.0)">High-Pass Filter (Impulse Response/Weights)</text>
</g>
<g id="ax4" opacity="0.999">
<path class="g" d="M232.5 562.12V670.5M331.5 562.12V670.5M430.5 562.12V670.5M530.5 562.12V670.5M629.5 562.12V670.5M728.5 562.12V670.5M827.5 562.12V670.5"/>
<path class="g" d="M133.5 570.85H926.5M133.5 620.65H926.5"/>
<path class="a" d="M133.5 562.12H926.5V670.5H133.5Z"/>
<path class="a" d="M133.5 670.5v-6.6M133.5 562.12v6.6M232.5 670.5v-6.6M232.5 562.12v6.6M331.5 670.5v-6.6M331.5 562.12v6.6M430.5 670.5v-6.6M430.5 562.12v6.6M530.5 670.5v-6.6M530.5 562.12v6.6M629.5 670.5v-6.6M629.5 562.12v6.6M728.5 670.5v-6.6M728.5 562.12v6.6M827.5 670.5v-6.6M827.5 562.12v6.6M926.5 670.5v-6.6M926.5 562.12v6.6M133.5 670.5h6.6M926.5 670.5h-6.6M133.5 620.5h6.6M926.5 620.5h-6.6M133.5 570.5h6.6M926.5 570.5h-6.6"/>
<polyline class="c" points="133.12,670.25 133.52,670.26 133.91,670.27 134.31,670.3 134.71,670.33 135.1,670.37 135.5,670.41 135.9,670.46 136.29,670.49 136.69,670.44 137.09,670.39 137.48,670.35 137.88,670.32 138.28,670.29 138.68,670.27 139.07,670.25 139.47,670.25 139.87,670.26 140.26,670.28 140.66,670.31 141.06,670.34 141.45,670.38 141.85,670.43 142.25,670.48 142.64,670.47 143.04,670.42 143.44,670.38 143.83,670.34 144.23,670.3 144.63,670.28 145.02,670.26 145.42,670.25 145.82,670.26 146.21,670.27 146.61,670.29 147.01,670.32 147.4,670.36 147.8,670.4 148.2,670.45 148.6,670.5 148.99,670.45 149.39,670.41 149.79,670.36 150.18,670.32 150.58,670.29 150.98,670.27 151.37,670.26 151.77,670.25 152.17,670.26 152.56,670.27 152.96,670.3 153.36,670.33 153.75,670.37 154.15,670.42 154.55,670.47 154.94,670.48 155.34,670.44 155.74,670.39 156.13,670.35 156.53,670.31 156.93,670.28 157.32,670.26 157.72,670.25 158.12,670.25 158.52,670.26 158.91,670.28 159.31,670.31 159.71,670.35 160.1,670.39 160.5,670.44 160.9,670.48 161.29,670.47 161.69,670.42 162.09,670.37 162.48,670.33 162.88,670.3 163.28,670.27 163.67,670.26 164.07,670.25 164.47,670.25 164.86,670.27 165.26,670.29 165.66,670.32 166.05,670.36 166.45,670.41 166.85,670.45 167.24,670.5 167.64,670.45 168.04,670.4 168.44,670.36 168.83,670.32 169.23,670.29 169.63,670.27 170.02,670.25 170.42,670.25 170.82,670.26 171.21,670.28 171.61,670.3 172.01,670.34 172.4,670.38 172.8,670.42 173.2,670.47 173.59,670.48 173.99,670.43 174.39,670.38 174.78,670.34 175.18,670.3 175.58,670.28 175.97,670.26 176.37,670.25 176.77,670.25 177.16,670.26 177.56,670.28 177.96,670.31 178.36,670.35 178.75,670.39 179.15,670.44 179.55,670.49 179.94,670.46 180.34,670.41 180.74,670.36 181.13,670.32 181.53,670.29 181.93,670.27 182.32,670.25 182.72,670.25 183.12,670.25 183.51,670.27 183.91,670.29 184.31,670.33 184.7,670.36 185.1,670.41 185.5,670.46 185.89,670.49 186.29,670.44 186.69,670.39 187.08,670.35 187.48,670.31 187.88,670.28 188.28,670.26 188.67,670.25 189.07,670.25 189.47,670.26 189.86,670.27 190.26,670.3 190.66,670.34 191.05,670.38 191.45,670.43 191.85,670.48 192.24,670.47 192.64,670.42 193.04,670.37 193.43,670.33 193.83,670.3 194.23,670.27 194.62,670.25 195.02,670.25 195.42,670.25 195.81,670.26 196.21,670.28 196.61,670.31 197,670.35 197.4,670.4 197.8,670.45 198.2,670.5 198.59,670.45 198.99,670.4 199.39,670.36 199.78,670.32 200.18,670.28 200.58,670.26 200.97,670.25 201.37,670.24 201.77,670.25 202.16,670.27 202.56,670.29 202.96,670.33 203.35,670.37 203.75,670.41 204.15,670.47 204.54,670.48 204.94,670.43 205.34,670.38 205.73,670.34 206.13,670.3 206.53,670.27 206.92,670.25 207.32,670.24 207.72,670.24 208.12,670.25 208.51,670.27 208.91,670.3 209.31,670.34 209.7,670.38 210.1,670.43 210.5,670.48 210.89,670.46 211.29,670.41 211.69,670.37 212.08,670.32 212.48,670.29 212.88,670.26 213.27,670.25 213.67,670.24 214.07,670.24 214.46,670.26 214.86,670.28 215.26,670.31 215.65,670.36 216.05,670.4 216.45,670.45 216.84,670.5 217.24,670.44 217.64,670.39 218.04,670.35 218.43,670.31 218.83,670.28 219.23,670.25 219.62,670.24 220.02,670.24 220.42,670.25 220.81,670.26 221.21,670.29 221.61,670.33 222,670.37 222.4,670.42 222.8,670.47 223.19,670.48 223.59,670.42 223.99,670.37 224.38,670.33 224.78,670.29 225.18,670.26 225.57,670.24 225.97,670.24 226.37,670.24 226.76,670.25 227.16,670.27 227.56,670.3 227.96,670.34 228.35,670.39 228.75,670.44 229.15,670.49 229.54,670.46 229.94,670.4 230.34,670.36 230.73,670.31 231.13,670.28 231.53,670.25 231.92,670.24 232.32,670.23 232.72,670.24 233.11,670.25 233.51,670.28 233.91,670.31 234.3,670.36 234.7,670.41 235.1,670.46 235.49,670.49 235.89,670.44 236.29,670.38 236.68,670.34 237.08,670.3 237.48,670.27 237.88,670.24 238.27,670.23 238.67,670.23 239.07,670.24 239.46,670.26 239.86,670.29 240.26,670.33 240.65,670.37 241.05,670.42 241.45,670.48 241.84,670.47 242.24,670.41 242.64,670.36 243.03,670.32 243.43,670.28 243.83,670.25 244.22,670.23 244.62,670.23 245.02,670.23 245.41,670.24 245.81,670.27 246.21,670.3 246.6,670.34 247,670.39 247.4,670.44 247.8,670.5 248.19,670.45 248.59,670.39 248.99,670.35 249.38,670.3 249.78,670.27 250.18,670.24 250.57,670.23 250.97,670.22 251.37,670.23 251.76,670.25 252.16,670.28 252.56,670.31 252.95,670.36 253.35,670.41 253.75,670.46 254.14,670.48 254.54,670.43 254.94,670.37 255.33,670.33 255.73,670.29 256.13,670.25 256.52,670.23 256.92,670.22 257.32,670.22 257.72,670.23 258.11,670.25 258.51,670.29 258.91,670.33 259.3,670.37 259.7,670.43 260.1,670.48 260.49,670.46 260.89,670.4 261.29,670.35 261.68,670.31 262.08,670.27 262.48,670.24 262.87,670.22 263.27,670.22 263.67,670.22 264.06,670.24 264.46,670.26 264.86,670.3 265.25,670.34 265.65,670.39 266.05,670.45 266.44,670.5 266.84,670.44 267.24,670.38 267.64,670.33 268.03,670.29 268.43,670.25 268.83,670.23 269.22,670.21 269.62,670.21 270.02,670.22 270.41,670.24 270.81,670.27 271.21,670.31 271.6,670.36 272,670.41 272.4,670.47 272.79,670.47 273.19,670.42 273.59,670.36 273.98,670.31 274.38,670.27 274.78,670.24 275.17,670.22 275.57,670.21 275.97,670.21 276.36,670.22 276.76,670.25 277.16,670.28 277.56,670.33 277.95,670.38 278.35,670.43 278.75,670.49 279.14,670.45 279.54,670.39 279.94,670.34 280.33,670.29 280.73,670.25 281.13,670.23 281.52,670.21 281.92,670.2 282.32,670.21 282.71,670.23 283.11,670.26 283.51,670.29 283.9,670.34 284.3,670.39 284.7,670.45 285.09,670.49 285.49,670.43 285.89,670.37 286.28,670.32 286.68,670.27 287.08,670.24 287.48,670.21 287.87,670.2 288.27,670.2 288.67,670.21 289.06,670.23 289.46,670.26 289.86,670.31 290.25,670.36 290.65,670.41 291.05,670.47 291.44,670.46 291.84,670.4 292.24,670.35 292.63,670.3 293.03,670.26 293.43,670.22 293.82,670.2 294.22,670.19 294.62,670.2 295.01,670.21 295.41,670.24 295.81,670.28 296.2,670.32 296.6,670.38 297,670.44 297.4,670.5 297.79,670.44 298.19,670.38 298.59,670.32 298.98,670.28 299.38,670.24 299.78,670.21 300.17,670.19 300.57,670.19 300.97,670.19 301.36,670.21 301.76,670.25 302.16,670.29 302.55,670.34 302.95,670.4 303.35,670.46 303.74,670.48 304.14,670.42 304.54,670.36 304.93,670.3 305.33,670.26 305.73,670.22 306.12,670.19 306.52,670.18 306.92,670.18 307.32,670.19 307.71,670.22 308.11,670.26 308.51,670.3 308.9,670.36 309.3,670.42 309.7,670.48 310.09,670.45 310.49,670.39 310.89,670.33 311.28,670.28 311.68,670.24 312.08,670.2 312.47,670.18 312.87,670.17 313.27,670.18 313.66,670.2 314.06,670.23 314.46,670.27 314.85,670.32 315.25,670.38 315.65,670.44 316.04,670.49 316.44,670.43 316.84,670.36 317.24,670.31 317.63,670.26 318.03,670.22 318.43,670.19 318.82,670.17 319.22,670.17 319.62,670.18 320.01,670.2 320.41,670.24 320.81,670.28 321.2,670.34 321.6,670.4 322,670.46 322.39,670.47 322.79,670.4 323.19,670.34 323.58,670.28 323.98,670.23 324.38,670.2 324.77,670.17 325.17,670.16 325.57,670.16 325.96,670.18 326.36,670.21 326.76,670.25 327.16,670.3 327.55,670.36 327.95,670.42 328.35,670.49 328.74,670.44 329.14,670.37 329.54,670.31 329.93,670.26 330.33,670.21 330.73,670.18 331.12,670.16 331.52,670.15 331.92,670.16 332.31,670.18 332.71,670.21 333.11,670.26 333.5,670.31 333.9,670.38 334.3,670.45 334.69,670.48 335.09,670.41 335.49,670.35 335.88,670.28 336.28,670.23 336.68,670.19 337.08,670.16 337.47,670.14 337.87,670.14 338.27,670.15 338.66,670.18 339.06,670.22 339.46,670.27 339.85,670.33 340.25,670.4 340.65,670.47 341.04,670.46 341.44,670.38 341.84,670.32 342.23,670.26 342.63,670.21 343.03,670.17 343.42,670.14 343.82,670.13 344.22,670.14 344.61,670.15 345.01,670.19 345.41,670.23 345.8,670.29 346.2,670.35 346.6,670.42 347,670.5 347.39,670.43 347.79,670.35 348.19,670.29 348.58,670.23 348.98,670.18 349.38,670.15 349.77,670.13 350.17,670.12 350.57,670.13 350.96,670.16 351.36,670.19 351.76,670.24 352.15,670.31 352.55,670.38 352.95,670.45 353.34,670.47 353.74,670.4 354.14,670.32 354.53,670.26 354.93,670.2 355.33,670.16 355.72,670.13 356.12,670.11 356.52,670.11 356.92,670.13 357.31,670.16 357.71,670.2 358.11,670.26 358.5,670.33 358.9,670.4 359.3,670.48 359.69,670.44 360.09,670.36 360.49,670.29 360.88,670.23 361.28,670.17 361.68,670.13 362.07,670.11 362.47,670.1 362.87,670.1 363.26,670.13 363.66,670.16 364.06,670.21 364.45,670.28 364.85,670.35 365.25,670.43 365.64,670.49 366.04,670.41 366.44,670.33 366.84,670.26 367.23,670.2 367.63,670.15 368.03,670.11 368.42,670.09 368.82,670.09 369.22,670.1 369.61,670.13 370.01,670.17 370.41,670.23 370.8,670.3 371.2,670.37 371.6,670.46 371.99,670.46 372.39,670.37 372.79,670.3 373.18,670.23 373.58,670.17 373.98,670.12 374.37,670.09 374.77,670.07 375.17,670.07 375.56,670.09 375.96,670.13 376.36,670.18 376.76,670.24 377.15,670.32 377.55,670.4 377.95,670.49 378.34,670.42 378.74,670.34 379.14,670.26 379.53,670.19 379.93,670.13 380.33,670.09 380.72,670.06 381.12,670.05 381.52,670.06 381.91,670.09 382.31,670.13 382.71,670.19 383.1,670.26 383.5,670.34 383.9,670.43 384.29,670.48 384.69,670.39 385.09,670.3 385.48,670.22 385.88,670.15 386.28,670.1 386.68,670.06 387.07,670.04 387.47,670.04 387.87,670.06 388.26,670.09 388.66,670.14 389.06,670.21 389.45,670.28 389.85,670.37 390.25,670.46 390.64,670.44 391.04,670.35 391.44,670.26 391.83,670.18 392.23,670.12 392.63,670.07 393.02,670.03 393.42,670.02 393.82,670.02 394.21,670.05 394.61,670.09 395.01,670.15 395.4,670.22 395.8,670.31 396.2,670.4 396.6,670.5 396.99,670.4 397.39,670.31 397.79,670.22 398.18,670.14 398.58,670.08 398.98,670.03 399.37,670.01 399.77,670 400.17,670.01 400.56,670.04 400.96,670.09 401.36,670.16 401.75,670.24 402.15,670.34 402.55,670.44 402.94,670.46 403.34,670.36 403.74,670.26 404.13,670.17 404.53,670.1 404.93,670.04 405.32,670 405.72,669.98 406.12,669.98 406.52,670 406.91,670.04 407.31,670.1 407.71,670.18 408.1,670.27 408.5,670.37 408.9,670.47 409.29,670.42 409.69,670.31 410.09,670.21 410.48,670.13 410.88,670.05 411.28,670 411.67,669.96 412.07,669.95 412.47,669.96 412.86,669.99 413.26,670.04 413.66,670.11 414.05,670.2 414.45,670.3 414.85,670.4 415.24,670.48 415.64,670.37 416.04,670.26 416.44,670.16 416.83,670.08 417.23,670.01 417.63,669.96 418.02,669.93 418.42,669.92 418.82,669.94 419.21,669.98 419.61,670.04 420.01,670.12 420.4,670.22 420.8,670.33 421.2,670.44 421.59,670.44 421.99,670.32 422.39,670.21 422.78,670.11 423.18,670.02 423.58,669.96 423.97,669.91 424.37,669.89 424.77,669.89 425.16,669.92 425.56,669.97 425.96,670.05 426.36,670.14 426.75,670.25 427.15,670.36 427.55,670.49 427.94,670.39 428.34,670.26 428.74,670.15 429.13,670.05 429.53,669.97 429.93,669.91 430.32,669.87 430.72,669.85 431.12,669.87 431.51,669.91 431.91,669.97 432.31,670.05 432.7,670.16 433.1,670.28 433.5,670.4 433.89,670.46 434.29,670.33 434.69,670.2 435.08,670.09 435.48,669.99 435.88,669.91 436.28,669.85 436.67,669.82 437.07,669.82 437.47,669.84 437.86,669.89 438.26,669.97 438.66,670.07 439.05,670.18 439.45,670.31 439.85,670.45 440.24,670.4 440.64,670.26 441.04,670.13 441.43,670.02 441.83,669.92 442.23,669.84 442.62,669.79 443.02,669.77 443.42,669.77 443.81,669.81 444.21,669.88 444.61,669.97 445,670.08 445.4,670.21 445.8,670.36 446.2,670.49 446.59,670.34 446.99,670.19 447.39,670.06 447.78,669.94 448.18,669.84 448.58,669.77 448.97,669.72 449.37,669.71 449.77,669.73 450.16,669.78 450.56,669.86 450.96,669.97 451.35,670.1 451.75,670.25 452.15,670.41 452.54,670.43 452.94,670.27 453.34,670.11 453.73,669.97 454.13,669.85 454.53,669.75 454.92,669.69 455.32,669.65 455.72,669.65 456.12,669.69 456.51,669.76 456.91,669.85 457.31,669.98 457.7,670.13 458.1,670.29 458.5,670.47 458.89,670.35 459.29,670.18 459.69,670.02 460.08,669.87 460.48,669.75 460.88,669.66 461.27,669.6 461.67,669.57 462.07,669.59 462.46,669.64 462.86,669.73 463.26,669.85 463.65,669.99 464.05,670.16 464.45,670.35 464.84,670.46 465.24,670.26 465.64,670.08 466.04,669.91 466.43,669.76 466.83,669.63 467.23,669.55 467.62,669.5 468.02,669.48 468.42,669.52 468.81,669.59 469.21,669.7 469.61,669.84 470,670.01 470.4,670.21 470.8,670.41 471.19,670.37 471.59,670.16 471.99,669.96 472.38,669.77 472.78,669.62 473.18,669.5 473.57,669.42 473.97,669.38 474.37,669.38 474.76,669.43 475.16,669.53 475.56,669.67 475.96,669.84 476.35,670.04 476.75,670.26 477.15,670.5 477.54,670.26 477.94,670.03 478.34,669.81 478.73,669.62 479.13,669.46 479.53,669.34 479.92,669.26 480.32,669.24 480.72,669.26 481.11,669.34 481.51,669.46 481.91,669.63 482.3,669.84 482.7,670.08 483.1,670.34 483.49,670.39 483.89,670.12 484.29,669.86 484.68,669.62 485.08,669.42 485.48,669.25 485.88,669.13 486.27,669.07 486.67,669.06 487.07,669.11 487.46,669.22 487.86,669.39 488.26,669.6 488.65,669.85 489.05,670.13 489.45,670.44 489.84,670.25 490.24,669.94 490.64,669.65 491.03,669.39 491.43,669.16 491.83,668.99 492.22,668.88 492.62,668.82 493.02,668.84 493.41,668.93 493.81,669.08 494.21,669.29 494.6,669.56 495,669.87 495.4,670.22 495.8,670.42 496.19,670.05 496.59,669.69 496.99,669.36 497.38,669.06 497.78,668.81 498.18,668.63 498.57,668.53 498.97,668.49 499.37,668.55 499.76,668.68 500.16,668.89 500.56,669.17 500.95,669.52 501.35,669.92 501.75,670.35 502.14,670.2 502.54,669.76 502.94,669.32 503.33,668.93 503.73,668.58 504.13,668.31 504.52,668.12 504.92,668.02 505.32,668.02 505.72,668.12 506.11,668.33 506.51,668.63 506.91,669.02 507.3,669.48 507.7,670.01 508.1,670.43 508.49,669.85 508.89,669.27 509.29,668.73 509.68,668.24 510.08,667.82 510.48,667.5 510.87,667.29 511.27,667.21 511.67,667.26 512.06,667.45 512.46,667.77 512.86,668.23 513.25,668.8 513.65,669.48 514.05,670.23 514.44,669.98 514.84,669.16 515.24,668.36 515.64,667.6 516.03,666.93 516.43,666.37 516.83,665.96 517.22,665.72 517.62,665.67 518.02,665.83 518.41,666.2 518.81,666.78 519.21,667.57 519.6,668.54 520,669.68 520.4,670.06 520.79,668.71 521.19,667.33 521.59,665.97 521.98,664.69 522.38,663.55 522.78,662.62 523.17,661.96 523.57,661.62 523.97,661.68 524.36,662.17 524.76,663.14 525.16,664.63 525.56,666.66 525.95,669.25 526.35,668.61 526.75,664.92 527.14,660.7 527.54,656 527.94,650.86 528.33,645.32 528.73,639.47 529.13,633.37 529.52,627.1 529.92,620.75 530.32,614.39 530.71,608.13 531.11,602.03 531.51,596.17 531.9,590.64 532.3,585.5 532.7,580.79 533.09,576.58 533.49,572.89 533.89,569.75 534.28,567.16 534.68,565.13 535.08,563.64 535.48,562.67 535.87,562.17 536.27,562.12 536.67,562.45 537.06,563.12 537.46,564.05 537.86,565.19 538.25,566.47 538.65,567.83 539.05,569.21 539.44,570.56 539.84,571.82 540.24,572.95 540.63,573.93 541.03,574.72 541.43,575.3 541.82,575.67 542.22,575.83 542.62,575.78 543.01,575.54 543.41,575.12 543.81,574.57 544.2,573.89 544.6,573.14 545,572.34 545.4,571.52 545.79,570.72 546.19,569.97 546.59,569.3 546.98,568.73 547.38,568.27 547.78,567.94 548.17,567.75 548.57,567.7 548.97,567.79 549.36,567.99 549.76,568.32 550.16,568.73 550.55,569.23 550.95,569.77 551.35,570.35 551.74,570.93 552.14,571.49 552.54,572.01 552.93,572.48 553.33,572.87 553.73,573.17 554.12,573.38 554.52,573.48 554.92,573.48 555.32,573.38 555.71,573.19 556.11,572.91 556.51,572.57 556.9,572.17 557.3,571.74 557.7,571.29 558.09,570.84 558.49,570.41 558.89,570.02 559.28,569.67 559.68,569.39 560.08,569.18 560.47,569.04 560.87,568.99 561.27,569.02 561.66,569.13 562.06,569.31 562.46,569.56 562.85,569.85 563.25,570.19 563.65,570.55 564.04,570.92 564.44,571.28 564.84,571.63 565.24,571.94 565.63,572.21 566.03,572.42 566.43,572.57 566.82,572.66 567.22,572.67 567.62,572.62 568.01,572.51 568.41,572.33 568.81,572.11 569.2,571.85 569.6,571.56 570,571.25 570.39,570.94 570.79,570.63 571.19,570.35 571.58,570.09 571.98,569.88 572.38,569.72 572.77,569.61 573.17,569.56 573.57,569.57 573.96,569.63 574.36,569.75 574.76,569.92 575.16,570.12 575.55,570.36 575.95,570.62 576.35,570.89 576.74,571.16 577.14,571.42 577.54,571.66 577.93,571.86 578.33,572.03 578.73,572.16 579.12,572.24 579.52,572.26 579.92,572.24 580.31,572.16 580.71,572.04 581.11,571.88 581.5,571.69 581.9,571.47 582.3,571.24 582.69,571 583.09,570.76 583.49,570.54 583.88,570.33 584.28,570.16 584.68,570.03 585.08,569.93 585.47,569.88 585.87,569.87 586.27,569.91 586.66,570 587.06,570.12 587.46,570.27 587.85,570.45 588.25,570.66 588.65,570.87 589.04,571.08 589.44,571.29 589.84,571.49 590.23,571.66 590.63,571.8 591.03,571.91 591.42,571.98 591.82,572.01 592.22,572 592.61,571.95 593.01,571.86 593.41,571.74 593.8,571.59 594.2,571.42 594.6,571.23 595,571.04 595.39,570.84 595.79,570.66 596.19,570.49 596.58,570.34 596.98,570.22 597.38,570.14 597.77,570.09 598.17,570.07 598.57,570.09 598.96,570.15 599.36,570.25 599.76,570.37 600.15,570.51 600.55,570.68 600.95,570.85 601.34,571.03 601.74,571.2 602.14,571.37 602.53,571.52 602.93,571.64 603.33,571.74 603.72,571.81 604.12,571.84 604.52,571.84 604.92,571.81 605.31,571.74 605.71,571.65 606.11,571.53 606.5,571.39 606.9,571.23 607.3,571.07 607.69,570.9 608.09,570.75 608.49,570.6 608.88,570.47 609.28,570.36 609.68,570.28 610.07,570.23 610.47,570.21 610.87,570.22 611.26,570.26 611.66,570.34 612.06,570.43 612.45,570.55 612.85,570.69 613.25,570.84 613.64,570.99 614.04,571.14 614.44,571.29 614.84,571.42 615.23,571.53 615.63,571.62 616.03,571.69 616.42,571.72 616.82,571.73 617.22,571.71 617.61,571.66 618.01,571.58 618.41,571.48 618.8,571.36 619.2,571.23 619.6,571.09 619.99,570.95 620.39,570.81 620.79,570.68 621.18,570.56 621.58,570.46 621.98,570.39 622.37,570.34 622.77,570.31 623.17,570.32 623.56,570.35 623.96,570.4 624.36,570.48 624.76,570.58 625.15,570.7 625.55,570.83 625.95,570.96 626.34,571.09 626.74,571.22 627.14,571.34 627.53,571.44 627.93,571.53 628.33,571.59 628.72,571.63 629.12,571.64 629.52,571.63 629.91,571.59 630.31,571.53 630.71,571.45 631.1,571.35 631.5,571.23 631.9,571.11 632.29,570.99 632.69,570.86 633.09,570.74 633.48,570.64 633.88,570.54 634.28,570.47 634.68,570.42 635.07,570.39 635.47,570.39 635.87,570.41 636.26,570.46 636.66,570.52 637.06,570.61 637.45,570.71 637.85,570.82 638.25,570.93 638.64,571.05 639.04,571.17 639.44,571.28 639.83,571.38 640.23,571.46 640.63,571.52 641.02,571.56 641.42,571.57 641.82,571.57 642.21,571.54 642.61,571.49 643.01,571.42 643.4,571.33 643.8,571.23 644.2,571.13 644.6,571.01 644.99,570.9 645.39,570.79 645.79,570.69 646.18,570.61 646.58,570.54 646.98,570.49 647.37,570.46 647.77,570.45 648.17,570.46 648.56,570.5 648.96,570.55 649.36,570.62 649.75,570.71 650.15,570.81 650.55,570.92 650.94,571.02 651.34,571.13 651.74,571.23 652.13,571.32 652.53,571.4 652.93,571.46 653.32,571.5 653.72,571.52 654.12,571.52 654.52,571.5 654.91,571.46 655.31,571.4 655.71,571.32 656.1,571.24 656.5,571.14 656.9,571.04 657.29,570.93 657.69,570.83 658.09,570.74 658.48,570.66 658.88,570.59 659.28,570.54 659.67,570.51 660.07,570.5 660.47,570.5 660.86,570.53 661.26,570.58 661.66,570.64 662.05,570.72 662.45,570.8 662.85,570.9 663.24,571 663.64,571.09 664.04,571.19 664.44,571.27 664.83,571.35 665.23,571.41 665.63,571.45 666.02,571.47 666.42,571.48 666.82,571.46 667.21,571.43 667.61,571.38 668.01,571.31 668.4,571.24 668.8,571.15 669.2,571.06 669.59,570.96 669.99,570.87 670.39,570.78 670.78,570.7 671.18,570.64 671.58,570.59 671.97,570.55 672.37,570.54 672.77,570.54 673.16,570.56 673.56,570.6 673.96,570.65 674.36,570.72 674.75,570.8 675.15,570.88 675.55,570.97 675.94,571.07 676.34,571.15 676.74,571.23 677.13,571.31 677.53,571.36 677.93,571.41 678.32,571.43 678.72,571.44 679.12,571.43 679.51,571.41 679.91,571.36 680.31,571.31 680.7,571.24 681.1,571.16 681.5,571.07 681.89,570.99 682.29,570.9 682.69,570.82 683.08,570.74 683.48,570.68 683.88,570.63 684.28,570.59 684.67,570.57 685.07,570.57 685.47,570.58 685.86,570.62 686.26,570.66 686.66,570.72 687.05,570.79 687.45,570.87 687.85,570.96 688.24,571.04 688.64,571.12 689.04,571.2 689.43,571.27 689.83,571.33 690.23,571.37 690.62,571.4 691.02,571.41 691.42,571.41 691.81,571.39 692.21,571.35 692.61,571.3 693,571.24 693.4,571.17 693.8,571.09 694.2,571.01 694.59,570.92 694.99,570.85 695.39,570.77 695.78,570.71 696.18,570.66 696.58,570.62 696.97,570.6 697.37,570.6 697.77,570.61 698.16,570.63 698.56,570.67 698.96,570.73 699.35,570.79 699.75,570.86 700.15,570.94 700.54,571.02 700.94,571.1 701.34,571.17 701.73,571.24 702.13,571.29 702.53,571.34 702.92,571.37 703.32,571.39 703.72,571.39 704.12,571.37 704.51,571.34 704.91,571.3 705.31,571.24 705.7,571.17 706.1,571.1 706.5,571.03 706.89,570.95 707.29,570.87 707.69,570.8 708.08,570.74 708.48,570.69 708.88,570.65 709.27,570.63 709.67,570.62 710.07,570.62 710.46,570.65 710.86,570.68 711.26,570.73 711.65,570.79 712.05,570.85 712.45,570.92 712.84,571 713.24,571.07 713.64,571.14 714.04,571.21 714.43,571.27 714.83,571.31 715.23,571.34 715.62,571.36 716.02,571.37 716.42,571.35 716.81,571.33 717.21,571.29 717.61,571.24 718,571.18 718.4,571.11 718.8,571.04 719.19,570.97 719.59,570.9 719.99,570.83 720.38,570.77 720.78,570.72 721.18,570.68 721.57,570.65 721.97,570.64 722.37,570.64 722.76,570.66 723.16,570.69 723.56,570.73 723.96,570.78 724.35,570.84 724.75,570.91 725.15,570.98 725.54,571.05 725.94,571.12 726.34,571.18 726.73,571.24 727.13,571.29 727.53,571.32 727.92,571.34 728.32,571.35 728.72,571.34 729.11,571.32 729.51,571.29 729.91,571.24 730.3,571.19 730.7,571.12 731.1,571.06 731.49,570.99 731.89,570.92 732.29,570.85 732.68,570.79 733.08,570.74 733.48,570.7 733.88,570.67 734.27,570.66 734.67,570.66 735.07,570.67 735.46,570.69 735.86,570.73 736.26,570.78 736.65,570.84 737.05,570.9 737.45,570.97 737.84,571.03 738.24,571.1 738.64,571.16 739.03,571.22 739.43,571.26 739.83,571.3 740.22,571.32 740.62,571.33 741.02,571.33 741.41,571.31 741.81,571.28 742.21,571.24 742.6,571.19 743,571.13 743.4,571.07 743.8,571 744.19,570.94 744.59,570.87 744.99,570.82 745.38,570.77 745.78,570.72 746.18,570.69 746.57,570.68 746.97,570.67 747.37,570.68 747.76,570.7 748.16,570.73 748.56,570.78 748.95,570.83 749.35,570.89 749.75,570.95 750.14,571.02 750.54,571.08 750.94,571.14 751.33,571.19 751.73,571.24 752.13,571.28 752.52,571.3 752.92,571.32 753.32,571.32 753.72,571.3 754.11,571.28 754.51,571.24 754.91,571.2 755.3,571.14 755.7,571.08 756.1,571.02 756.49,570.96 756.89,570.89 757.29,570.84 757.68,570.79 758.08,570.74 758.48,570.71 758.87,570.69 759.27,570.68 759.67,570.69 760.06,570.71 760.46,570.73 760.86,570.77 761.25,570.82 761.65,570.88 762.05,570.94 762.44,571 762.84,571.06 763.24,571.12 763.64,571.17 764.03,571.22 764.43,571.26 764.83,571.29 765.22,571.3 765.62,571.3 766.02,571.3 766.41,571.27 766.81,571.24 767.21,571.2 767.6,571.15 768,571.09 768.4,571.03 768.79,570.97 769.19,570.91 769.59,570.86 769.98,570.8 770.38,570.76 770.78,570.73 771.17,570.71 771.57,570.7 771.97,570.7 772.36,570.71 772.76,570.74 773.16,570.77 773.56,570.82 773.95,570.87 774.35,570.92 774.75,570.98 775.14,571.04 775.54,571.1 775.94,571.16 776.33,571.2 776.73,571.24 777.13,571.27 777.52,571.29 777.92,571.29 778.32,571.29 778.71,571.27 779.11,571.24 779.51,571.2 779.9,571.16 780.3,571.1 780.7,571.05 781.09,570.99 781.49,570.93 781.89,570.87 782.28,570.82 782.68,570.78 783.08,570.74 783.48,570.72 783.87,570.71 784.27,570.71 784.67,570.72 785.06,570.74 785.46,570.77 785.86,570.81 786.25,570.86 786.65,570.91 787.05,570.97 787.44,571.03 787.84,571.09 788.24,571.14 788.63,571.19 789.03,571.23 789.43,571.26 789.82,571.28 790.22,571.29 790.62,571.28 791.01,571.27 791.41,571.24 791.81,571.21 792.2,571.16 792.6,571.11 793,571.06 793.4,571 793.79,570.94 794.19,570.89 794.59,570.84 794.98,570.8 795.38,570.76 795.78,570.73 796.17,570.72 796.57,570.71 796.97,570.72 797.36,570.74 797.76,570.77 798.16,570.81 798.55,570.85 798.95,570.9 799.35,570.96 799.74,571.01 800.14,571.07 800.54,571.12 800.93,571.17 801.33,571.21 801.73,571.24 802.12,571.27 802.52,571.28 802.92,571.28 803.32,571.27 803.71,571.24 804.11,571.21 804.51,571.17 804.9,571.12 805.3,571.07 805.7,571.02 806.09,570.96 806.49,570.91 806.89,570.86 807.28,570.81 807.68,570.77 808.08,570.75 808.47,570.73 808.87,570.72 809.27,570.72 809.66,570.74 810.06,570.77 810.46,570.8 810.85,570.84 811.25,570.89 811.65,570.94 812.04,571 812.44,571.05 812.84,571.11 813.24,571.16 813.63,571.2 814.03,571.23 814.43,571.25 814.82,571.27 815.22,571.27 815.62,571.26 816.01,571.24 816.41,571.21 816.81,571.18 817.2,571.13 817.6,571.08 818,571.03 818.39,570.97 818.79,570.92 819.19,570.87 819.58,570.82 819.98,570.79 820.38,570.76 820.77,570.74 821.17,570.73 821.57,570.73 821.96,570.74 822.36,570.76 822.76,570.8 823.16,570.84 823.55,570.88 823.95,570.93 824.35,570.99 824.74,571.04 825.14,571.09 825.54,571.14 825.93,571.18 826.33,571.22 826.73,571.24 827.12,571.26 827.52,571.27 827.92,571.26 828.31,571.24 828.71,571.22 829.11,571.18 829.5,571.14 829.9,571.09 830.3,571.04 830.69,570.99 831.09,570.94 831.49,570.88 831.88,570.84 832.28,570.8 832.68,570.77 833.08,570.75 833.47,570.73 833.87,570.73 834.27,570.74 834.66,570.76 835.06,570.79 835.46,570.83 835.85,570.87 836.25,570.92 836.65,570.97 837.04,571.03 837.44,571.08 837.84,571.13 838.23,571.17 838.63,571.21 839.03,571.23 839.42,571.25 839.82,571.26 840.22,571.26 840.61,571.24 841.01,571.22 841.41,571.19 841.8,571.15 842.2,571.1 842.6,571.05 843,571 843.39,570.95 843.79,570.9 844.19,570.85 844.58,570.81 844.98,570.78 845.38,570.76 845.77,570.74 846.17,570.74 846.57,570.74 846.96,570.76 847.36,570.79 847.76,570.82 848.15,570.86 848.55,570.91 848.95,570.96 849.34,571.01 849.74,571.06 850.14,571.11 850.53,571.16 850.93,571.19 851.33,571.22 851.72,571.24 852.12,571.25 852.52,571.25 852.92,571.24 853.31,571.22 853.71,571.19 854.11,571.16 854.5,571.11 854.9,571.07 855.3,571.01 855.69,570.96 856.09,570.91 856.49,570.87 856.88,570.82 857.28,570.79 857.68,570.76 858.07,570.75 858.47,570.74 858.87,570.74 859.26,570.76 859.66,570.78 860.06,570.81 860.45,570.85 860.85,570.9 861.25,570.95 861.64,571 862.04,571.05 862.44,571.1 862.84,571.14 863.23,571.18 863.63,571.21 864.03,571.24 864.42,571.25 864.82,571.25 865.22,571.24 865.61,571.23 866.01,571.2 866.41,571.16 866.8,571.12 867.2,571.08 867.6,571.03 867.99,570.98 868.39,570.93 868.79,570.88 869.18,570.84 869.58,570.8 869.98,570.77 870.37,570.75 870.77,570.74 871.17,570.75 871.56,570.76 871.96,570.78 872.36,570.81 872.76,570.85 873.15,570.89 873.55,570.94 873.95,570.99 874.34,571.04 874.74,571.09 875.14,571.13 875.53,571.17 875.93,571.21 876.33,571.23 876.72,571.24 877.12,571.25 877.52,571.24 877.91,571.23 878.31,571.21 878.71,571.17 879.1,571.13 879.5,571.09 879.9,571.04 880.29,570.99 880.69,570.94 881.09,570.89 881.48,570.85 881.88,570.81 882.28,570.78 882.68,570.76 883.07,570.75 883.47,570.75 883.87,570.76 884.26,570.77 884.66,570.8 885.06,570.84 885.45,570.88 885.85,570.93 886.25,570.97 886.64,571.03 887.04,571.07 887.44,571.12 887.83,571.16 888.23,571.2 888.63,571.22 889.02,571.24 889.42,571.25 889.82,571.24 890.21,571.23 890.61,571.21 891.01,571.18 891.4,571.14 891.8,571.1 892.2,571.05 892.6,571 892.99,570.95 893.39,570.9 893.79,570.86 894.18,570.82 894.58,570.79 894.98,570.77 895.37,570.75 895.77,570.75 896.17,570.75 896.56,570.77 896.96,570.8 897.36,570.83 897.75,570.87 898.15,570.91 898.55,570.96 898.94,571.01 899.34,571.06 899.74,571.11 900.13,571.15 900.53,571.19 900.93,571.22 901.32,571.23 901.72,571.24 902.12,571.24 902.52,571.23 902.91,571.22 903.31,571.19 903.71,571.15 904.1,571.11 904.5,571.06 904.9,571.01 905.29,570.96 905.69,570.91 906.09,570.87 906.48,570.83 906.88,570.8 907.28,570.77 907.67,570.76 908.07,570.75 908.47,570.75 908.86,570.77 909.26,570.79 909.66,570.82 910.05,570.86 910.45,570.9 910.85,570.95 911.24,571 911.64,571.05 912.04,571.1 912.44,571.14 912.83,571.18 913.23,571.21 913.63,571.23 914.02,571.24 914.42,571.24 914.82,571.24 915.21,571.22 915.61,571.19 916.01,571.16 916.4,571.12 916.8,571.07 917.2,571.03 917.59,570.98 917.99,570.93 918.39,570.88 918.78,570.84 919.18,570.8 919.58,570.78 919.97,570.76 920.37,570.75 920.77,570.75 921.16,570.76 921.56,570.78 921.96,570.81 922.36,570.85 922.75,570.89 923.15,570.94 923.55,570.99 923.94,571.04 924.34,571.09 924.74,571.13 925.13,571.17 925.53,571.2 925.93,571.22 926.32,571.24 926.72,571.24"/>
<g transform="translate(132.65 691.05) rotate(0.03) scale(1.03 1.04)"><text class="t" x="-4.34" y="0">0</text></g>
<g transform="translate(231.72 691.05) rotate(0.03) scale(1.03 1.04)"><text class="t" x="-12.59 -4.34 3.92" y="0">500</text></g>
<g transform="translate(332.25 691.05) rotate(0.03) scale(1.03 1.04)"><path class="o" transform="translate(-16.72 0) scale(0.00762 -0.00729)" d="M763 0H583V1147Q518 1085 412.5 1023T223 930V1104Q374 1175 487 1276T647 1472H763Z"/><text class="t" x="-8.46 -0.21 8.04" y="0">000</text></g>
<g transform="translate(430.77 691.05) rotate(0.03) scale(1.03 1.04)"><path class="o" transform="translate(-16.72 0) scale(0.00762 -0.00729)" d="M763 0H583V1147Q518 1085 412.5 1023T223 930V1104Q374 1175 487 1276T647 1472H763Z"/><text class="t" x="-8.46 -0.21 8.04" y="0">500</text></g>
<g transform="translate(529.6 691.05) rotate(0.03) scale(1.03 1.04)"><text class="t" x="-16.72 -8.46 -0.21 8.04" y="0">2000</text></g>
<g transform="translate(628.58 691.05) rotate(0.03) scale(1.03 1.04)"><text class="t" x="-16.72 -8.46 -0.21 8.04" y="0">2500</text></g>
<g transform="translate(727.7 691.05) rotate(0.03) scale(1.03 1.04)"><text class="t" x="-16.72 -8.46 -0.21 8.04" y="0">3000</text></g>
<g transform="translate(827.58 691.05) rotate(0.03) scale(1.03 1.04)"><text class="t" x="-16.72 -8.46 -0.21 8.04" y="0">3500</text></g>
<g transform="translate(926.5 691.05) rotate(0.03) scale(1.03 1.04)"><text class="t" x="-16.72 -8.46 -0.21 8.04" y="0">4000</text></g>
<g transform="translate(128.8 677.15) rotate(0.03) scale(1.03 1.04)"><text class="t" x="-8.46" y="0">0</text></g>
<g transform="translate(128.8 627.15) rotate(0.03) scale(1.03 1.04)"><text class="t" x="-20.84 -12.87 -8.46" y="0">0.5</text></g>
<g transform="translate(128.8 577.15) rotate(0.03) scale(1.03 1.04)"><path class="o" transform="translate(-8.46 0) scale(0.00762 -0.00729)" d="M763 0H583V1147Q518 1085 412.5 1023T223 930V1104Q374 1175 487 1276T647 1472H763Z"/></g>
<text class="ti" transform="translate(529.6 555.3) rotate(0.01) scale(1.009 1.0)">High-Pass Filter Magnitude Response</text>
</g>
</svg></body></html>
